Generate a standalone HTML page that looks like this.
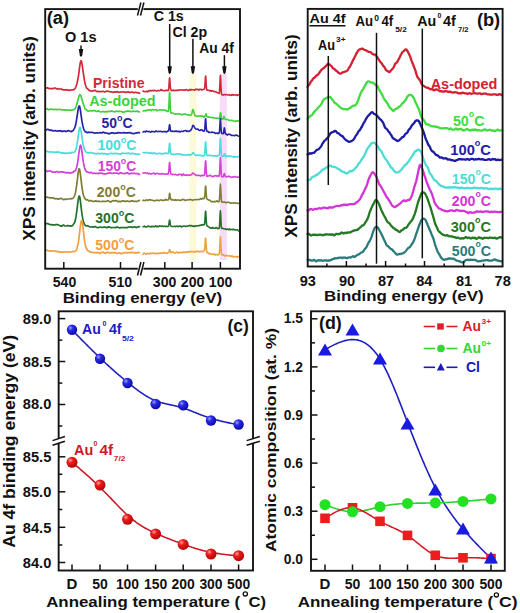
<!DOCTYPE html>
<html><head><meta charset="utf-8"><style>
html,body{margin:0;padding:0;background:#fff;width:520px;height:613px;overflow:hidden}
svg{display:block}
text{font-family:"Liberation Sans", sans-serif}
</style></head><body>
<svg width="520" height="613" viewBox="0 0 520 613">
<rect width="520" height="613" fill="#fff"/>
<rect x="189.5" y="74" width="7" height="186" fill="#fcfad8"/>
<rect x="219.8" y="74" width="7" height="186" fill="#f6dcf6"/>
<path d="M45.5 88.1 L46.0 88.1 L46.5 88.0 L47.0 87.8 L47.5 87.8 L48.0 88.0 L48.5 88.4 L49.0 88.6 L49.5 88.5 L50.0 88.5 L50.5 88.6 L51.0 88.7 L51.5 88.6 L52.0 88.6 L52.5 88.7 L53.0 88.7 L53.5 88.4 L54.0 88.2 L54.5 88.0 L55.0 88.0 L55.5 88.1 L56.0 88.4 L56.5 88.7 L57.0 89.0 L57.5 89.1 L58.0 88.8 L58.5 88.6 L59.0 88.8 L59.5 89.1 L60.0 89.1 L60.5 89.0 L61.0 89.0 L61.5 89.1 L62.0 89.4 L62.5 89.6 L63.0 89.7 L63.5 89.8 L64.0 89.9 L64.5 89.8 L65.0 89.8 L65.5 89.8 L66.0 89.8 L66.5 89.7 L67.0 89.9 L67.5 90.1 L68.0 90.0 L68.5 90.1 L69.0 90.1 L69.5 90.3 L70.0 90.5 L70.5 90.3 L71.0 90.0 L71.5 89.9 L72.0 90.0 L72.5 89.9 L73.0 89.8 L73.5 89.7 L74.0 89.6 L74.5 89.2 L75.0 88.5 L75.5 87.6 L76.0 86.5 L76.5 85.1 L77.0 83.2 L77.5 81.0 L78.0 78.6 L78.5 75.6 L79.0 71.9 L79.5 68.0 L80.0 64.5 L80.5 61.9 L81.0 60.7 L81.5 61.4 L82.0 63.8 L82.5 67.2 L83.0 70.8 L83.5 74.2 L84.0 77.5 L84.5 80.6 L85.0 83.3 L85.5 85.1 L86.0 86.6 L86.5 87.7 L87.0 88.4 L87.5 88.8 L88.0 89.2 L88.5 89.6 L89.0 90.1 L89.5 90.6 L90.0 90.8 L90.5 90.8 L91.0 90.9 L91.5 91.0 L92.0 91.1 L92.5 91.1 L93.0 91.0 L93.5 90.8 L94.0 90.6 L94.5 90.3 L95.0 90.3 L95.5 90.6 L96.0 91.0 L96.5 91.5 L97.0 91.7 L97.5 91.5 L98.0 91.3 L98.5 91.4 L99.0 91.6 L99.5 91.6 L100.0 91.6 L100.5 91.7 L101.0 91.6 L101.5 91.5 L102.0 91.4 L102.5 91.4 L103.0 91.4 L103.5 91.5 L104.0 91.7 L104.5 91.9 L105.0 91.9 L105.5 91.7 L106.0 91.5 L106.5 91.3 L107.0 91.1 L107.5 91.1 L108.0 91.3 L108.5 91.4 L109.0 91.5 L109.5 91.6 L110.0 91.7 L110.5 91.9 L111.0 92.0 L111.5 91.9 L112.0 92.0 L112.5 92.3 L113.0 92.5 L113.5 92.2 L114.0 92.0 L114.5 91.9 L115.0 91.9 L115.5 92.1 L116.0 92.0 L116.5 91.9 L117.0 91.7 L117.5 91.7 L118.0 91.9 L118.5 92.2 L119.0 92.4 L119.5 92.4 L120.0 92.2 L120.5 92.0 L121.0 91.9 L121.5 92.0 L122.0 92.0 L122.5 92.0 L123.0 91.8 L123.5 91.8 L124.0 92.1 L124.5 92.3 L125.0 92.2 L125.5 92.2 L126.0 92.4 L126.5 92.4 L127.0 92.2 L127.5 91.9 L128.0 91.9 L128.5 91.9 L129.0 92.2 L129.5 92.4 L130.0 92.4 L130.5 92.3 L131.0 92.3 L131.5 92.3 L132.0 92.1 L132.5 92.0 L133.0 92.2 L133.5 92.5 L134.0 92.6 L134.5 92.6 L135.0 92.5 L135.5 92.4 L136.0 92.5 L136.5 92.6 L137.0 92.6 L137.5 92.6 L138.0 92.8 L138.5 93.1 L139.0 93.1 L139.5 93.1" fill="none" stroke="#d02a38" stroke-width="1.7" stroke-linejoin="round" stroke-linecap="round" />
<path d="M143.0 90.9 L143.3 91.1 L143.6 91.4 L143.9 91.6 L144.2 91.5 L144.5 91.6 L144.8 91.7 L145.1 91.7 L145.4 91.6 L145.7 91.5 L146.0 91.4 L146.3 91.3 L146.6 91.4 L146.9 91.6 L147.2 91.8 L147.5 91.9 L147.8 91.5 L148.1 91.0 L148.4 90.7 L148.7 90.8 L149.0 90.9 L149.3 91.0 L149.6 90.8 L149.9 90.5 L150.2 90.4 L150.5 90.7 L150.8 90.9 L151.1 90.9 L151.4 90.8 L151.7 90.5 L152.0 90.4 L152.3 90.4 L152.6 90.4 L152.9 90.5 L153.2 90.7 L153.5 90.9 L153.8 90.8 L154.1 90.6 L154.4 90.4 L154.7 90.4 L155.0 90.5 L155.3 90.6 L155.6 90.7 L155.9 90.9 L156.2 91.1 L156.5 91.1 L156.8 91.0 L157.1 90.9 L157.4 90.8 L157.7 90.5 L158.0 90.4 L158.3 90.5 L158.6 90.7 L158.9 90.8 L159.2 90.8 L159.5 90.8 L159.8 90.8 L160.1 90.4 L160.4 90.0 L160.7 89.7 L161.0 89.5 L161.3 89.6 L161.6 90.1 L161.9 90.6 L162.2 90.5 L162.5 90.3 L162.8 90.4 L163.1 90.6 L163.4 90.7 L163.7 90.6 L164.0 90.6 L164.3 90.7 L164.6 90.8 L164.9 90.7 L165.2 90.5 L165.5 90.4 L165.8 90.4 L166.1 90.4 L166.4 90.4 L166.7 90.3 L167.0 90.2 L167.3 90.3 L167.6 90.5 L167.9 90.8 L168.2 90.8 L168.5 90.1 L168.8 87.9 L169.1 83.5 L169.4 78.6 L169.7 77.9 L170.0 81.8 L170.3 86.5 L170.6 89.0 L170.9 90.0 L171.2 90.4 L171.5 90.6 L171.8 90.6 L172.1 90.6 L172.4 90.5 L172.7 90.3 L173.0 90.0 L173.3 90.1 L173.6 90.5 L173.9 90.8 L174.2 90.8 L174.5 90.6 L174.8 90.5 L175.1 90.3 L175.4 90.2 L175.7 90.3 L176.0 90.4 L176.3 90.6 L176.6 90.5 L176.9 90.2 L177.2 90.1 L177.5 90.2 L177.8 90.5 L178.1 90.5 L178.4 90.2 L178.7 90.0 L179.0 89.9 L179.3 90.0 L179.6 90.2 L179.9 90.1 L180.2 90.0 L180.5 89.9 L180.8 89.8 L181.1 89.7 L181.4 89.7 L181.7 89.9 L182.0 90.0 L182.3 90.1 L182.6 90.3 L182.9 90.3 L183.2 90.1 L183.5 90.0 L183.8 89.9 L184.1 89.9 L184.4 90.0 L184.7 90.2 L185.0 90.4 L185.3 90.2 L185.6 89.8 L185.9 89.7 L186.2 89.6 L186.5 89.6 L186.8 89.7 L187.1 89.9 L187.4 90.1 L187.7 90.3 L188.0 90.5 L188.3 90.4 L188.6 90.4 L188.9 90.3 L189.2 90.0 L189.5 89.6 L189.8 89.6 L190.1 89.9 L190.4 90.2 L190.7 90.1 L191.0 89.7 L191.3 89.5 L191.6 89.6 L191.9 89.7 L192.2 89.8 L192.5 89.8 L192.8 89.8 L193.1 89.8 L193.4 89.8 L193.7 89.8 L194.0 89.9 L194.3 90.2 L194.6 90.3 L194.9 90.1 L195.2 89.7 L195.5 89.4 L195.8 89.2 L196.1 89.1 L196.4 89.3 L196.7 89.6 L197.0 89.7 L197.3 89.5 L197.6 89.2 L197.9 89.3 L198.2 89.6 L198.5 90.0 L198.8 90.2 L199.1 89.9 L199.4 89.4 L199.7 89.2 L200.0 89.3 L200.3 89.3 L200.6 89.3 L200.9 89.3 L201.2 89.5 L201.5 89.9 L201.8 90.1 L202.1 90.0 L202.4 89.8 L202.7 89.7 L203.0 89.5 L203.3 89.4 L203.6 89.3 L203.9 89.2 L204.2 89.2 L204.5 89.0 L204.8 87.0 L205.1 82.4 L205.4 77.2 L205.7 76.0 L206.0 80.2 L206.3 85.7 L206.6 88.9 L206.9 90.0 L207.2 90.3 L207.5 90.2 L207.8 90.0 L208.1 90.0 L208.4 90.3 L208.7 90.3 L209.0 90.3 L209.3 90.6 L209.6 90.9 L209.9 90.9 L210.2 90.6 L210.5 90.5 L210.8 90.7 L211.1 91.1 L211.4 91.2 L211.7 91.1 L212.0 90.8 L212.3 90.7 L212.6 90.7 L212.9 90.9 L213.2 91.2 L213.5 91.4 L213.8 91.6 L214.1 91.6 L214.4 91.5 L214.7 91.5 L215.0 91.7 L215.3 91.8 L215.6 91.9 L215.9 91.9 L216.2 92.0 L216.5 92.0 L216.8 92.2 L217.1 92.6 L217.4 92.7 L217.7 92.7 L218.0 92.8 L218.3 93.0 L218.6 93.2 L218.9 93.5 L219.2 93.3 L219.5 91.4 L219.8 86.2 L220.1 78.9 L220.4 75.2 L220.7 79.1 L221.0 86.7 L221.3 92.2 L221.6 94.3 L221.9 94.8 L222.2 94.8 L222.5 94.9 L222.8 95.0 L223.1 95.1 L223.4 94.9 L223.7 94.7 L224.0 94.6 L224.3 94.6 L224.6 94.6 L224.9 94.6 L225.2 94.8 L225.5 94.9 L225.8 94.7 L226.1 94.5 L226.4 94.5 L226.7 94.7 L227.0 94.8 L227.3 94.8 L227.6 94.9 L227.9 95.0 L228.2 95.0 L228.5 94.9 L228.8 94.7 L229.1 94.6 L229.4 94.8 L229.7 95.1 L230.0 95.3 L230.3 95.2 L230.6 95.2 L230.9 95.3 L231.2 95.4 L231.5 95.3 L231.8 94.9 L232.1 94.6 L232.4 94.5 L232.7 94.8 L233.0 95.1 L233.3 95.2 L233.6 94.9 L233.9 94.8 L234.2 94.9 L234.5 95.0 L234.8 94.8 L235.1 94.9 L235.4 95.0 L235.7 95.1 L236.0 95.0 L236.3 94.8 L236.6 94.8 L236.9 95.0 L237.2 95.4 L237.5 95.5 L237.8 95.1 L238.1 94.8 L238.4 94.6 L238.7 94.7" fill="none" stroke="#d02a38" stroke-width="1.6" stroke-linejoin="round" stroke-linecap="round" />
<path d="M45.5 109.0 L46.0 109.0 L46.5 108.9 L47.0 108.9 L47.5 109.1 L48.0 109.4 L48.5 109.8 L49.0 109.8 L49.5 109.5 L50.0 109.2 L50.5 109.2 L51.0 109.1 L51.5 109.1 L52.0 109.2 L52.5 109.3 L53.0 109.5 L53.5 109.6 L54.0 109.6 L54.5 109.5 L55.0 109.4 L55.5 109.3 L56.0 109.4 L56.5 109.6 L57.0 109.7 L57.5 109.6 L58.0 109.5 L58.5 109.5 L59.0 109.4 L59.5 109.4 L60.0 109.4 L60.5 109.5 L61.0 109.7 L61.5 109.9 L62.0 109.9 L62.5 109.9 L63.0 109.8 L63.5 109.8 L64.0 109.8 L64.5 109.9 L65.0 109.9 L65.5 110.0 L66.0 110.1 L66.5 110.2 L67.0 110.2 L67.5 110.1 L68.0 110.1 L68.5 110.0 L69.0 110.2 L69.5 110.3 L70.0 110.3 L70.5 110.2 L71.0 110.1 L71.5 110.1 L72.0 110.2 L72.5 110.1 L73.0 109.8 L73.5 109.5 L74.0 109.5 L74.5 109.3 L75.0 108.7 L75.5 107.7 L76.0 106.6 L76.5 105.3 L77.0 103.6 L77.5 101.7 L78.0 99.8 L78.5 97.9 L79.0 96.2 L79.5 95.1 L80.0 94.7 L80.5 95.0 L81.0 96.1 L81.5 97.8 L82.0 99.6 L82.5 101.2 L83.0 102.7 L83.5 104.2 L84.0 105.8 L84.5 107.3 L85.0 108.4 L85.5 109.2 L86.0 109.7 L86.5 109.9 L87.0 110.3 L87.5 110.7 L88.0 111.0 L88.5 111.1 L89.0 111.0 L89.5 110.9 L90.0 110.7 L90.5 110.6 L91.0 110.6 L91.5 110.9 L92.0 111.0 L92.5 110.9 L93.0 110.7 L93.5 110.7 L94.0 110.7 L94.5 110.6 L95.0 110.6 L95.5 110.9 L96.0 111.3 L96.5 111.4 L97.0 111.3 L97.5 111.2 L98.0 111.0 L98.5 110.9 L99.0 111.1 L99.5 111.5 L100.0 111.8 L100.5 112.0 L101.0 112.0 L101.5 111.8 L102.0 111.6 L102.5 111.5 L103.0 111.5 L103.5 111.6 L104.0 111.8 L104.5 111.9 L105.0 111.7 L105.5 111.6 L106.0 111.7 L106.5 111.8 L107.0 111.8 L107.5 111.6 L108.0 111.4 L108.5 111.3 L109.0 111.5 L109.5 111.6 L110.0 111.5 L110.5 111.2 L111.0 111.1 L111.5 111.1 L112.0 111.1 L112.5 111.2 L113.0 111.5 L113.5 111.7 L114.0 111.6 L114.5 111.6 L115.0 111.6 L115.5 111.6 L116.0 111.5 L116.5 111.3 L117.0 111.2 L117.5 111.3 L118.0 111.4 L118.5 111.5 L119.0 111.4 L119.5 111.3 L120.0 111.4 L120.5 111.5 L121.0 111.5 L121.5 111.5 L122.0 111.6 L122.5 112.1 L123.0 112.4 L123.5 112.3 L124.0 112.0 L124.5 111.9 L125.0 111.8 L125.5 111.5 L126.0 111.4 L126.5 111.4 L127.0 111.3 L127.5 111.1 L128.0 110.9 L128.5 111.0 L129.0 111.2 L129.5 111.3 L130.0 111.4 L130.5 111.5 L131.0 111.6 L131.5 111.5 L132.0 111.4 L132.5 111.3 L133.0 111.2 L133.5 111.3 L134.0 111.5 L134.5 111.5 L135.0 111.3 L135.5 111.3 L136.0 111.4 L136.5 111.3 L137.0 111.1 L137.5 111.2 L138.0 111.6 L138.5 112.0 L139.0 112.0 L139.5 111.8" fill="none" stroke="#3cd23c" stroke-width="1.7" stroke-linejoin="round" stroke-linecap="round" />
<path d="M143.0 111.0 L143.3 110.9 L143.6 110.7 L143.9 110.6 L144.2 110.7 L144.5 110.7 L144.8 110.6 L145.1 110.7 L145.4 111.0 L145.7 111.0 L146.0 110.8 L146.3 110.4 L146.6 110.1 L146.9 110.2 L147.2 110.3 L147.5 110.4 L147.8 110.3 L148.1 110.1 L148.4 109.9 L148.7 109.9 L149.0 110.0 L149.3 109.9 L149.6 109.9 L149.9 109.8 L150.2 109.9 L150.5 110.2 L150.8 110.5 L151.1 110.7 L151.4 110.6 L151.7 110.2 L152.0 109.7 L152.3 109.5 L152.6 109.6 L152.9 109.7 L153.2 109.7 L153.5 109.7 L153.8 109.7 L154.1 109.8 L154.4 109.9 L154.7 110.0 L155.0 109.9 L155.3 109.9 L155.6 109.7 L155.9 109.6 L156.2 109.7 L156.5 110.1 L156.8 110.6 L157.1 110.8 L157.4 110.7 L157.7 110.4 L158.0 110.2 L158.3 110.2 L158.6 110.1 L158.9 110.0 L159.2 109.9 L159.5 109.8 L159.8 109.8 L160.1 109.7 L160.4 109.7 L160.7 110.0 L161.0 110.2 L161.3 110.2 L161.6 110.0 L161.9 110.0 L162.2 109.9 L162.5 109.8 L162.8 109.8 L163.1 110.0 L163.4 110.1 L163.7 110.1 L164.0 110.1 L164.3 110.0 L164.6 110.1 L164.9 110.2 L165.2 110.3 L165.5 110.2 L165.8 110.3 L166.1 110.6 L166.4 111.1 L166.7 111.4 L167.0 111.4 L167.3 111.3 L167.6 111.4 L167.9 111.5 L168.2 111.4 L168.5 110.6 L168.8 107.4 L169.1 100.7 L169.4 93.5 L169.7 92.4 L170.0 98.8 L170.3 106.8 L170.6 111.4 L170.9 112.9 L171.2 113.0 L171.5 112.9 L171.8 112.9 L172.1 113.0 L172.4 113.1 L172.7 113.2 L173.0 113.2 L173.3 113.2 L173.6 113.5 L173.9 113.7 L174.2 113.8 L174.5 113.9 L174.8 114.0 L175.1 114.1 L175.4 114.2 L175.7 114.2 L176.0 114.0 L176.3 113.8 L176.6 113.7 L176.9 113.7 L177.2 113.8 L177.5 113.9 L177.8 114.0 L178.1 114.1 L178.4 114.0 L178.7 113.7 L179.0 113.6 L179.3 113.8 L179.6 113.9 L179.9 114.0 L180.2 114.1 L180.5 114.2 L180.8 114.2 L181.1 114.3 L181.4 114.5 L181.7 114.8 L182.0 114.9 L182.3 114.5 L182.6 114.3 L182.9 114.3 L183.2 114.3 L183.5 114.3 L183.8 114.3 L184.1 114.3 L184.4 114.2 L184.7 114.1 L185.0 114.0 L185.3 113.9 L185.6 114.1 L185.9 114.4 L186.2 114.6 L186.5 114.5 L186.8 114.5 L187.1 114.7 L187.4 115.0 L187.7 115.1 L188.0 115.0 L188.3 114.9 L188.6 114.9 L188.9 114.8 L189.2 114.7 L189.5 115.0 L189.8 115.3 L190.1 115.5 L190.4 115.4 L190.7 115.3 L191.0 115.1 L191.3 114.7 L191.6 114.3 L191.9 113.5 L192.2 112.1 L192.5 110.6 L192.8 109.6 L193.1 109.6 L193.4 110.3 L193.7 111.2 L194.0 112.4 L194.3 113.6 L194.6 114.7 L194.9 115.4 L195.2 115.8 L195.5 115.9 L195.8 115.8 L196.1 115.8 L196.4 116.1 L196.7 116.4 L197.0 116.3 L197.3 116.2 L197.6 116.2 L197.9 116.1 L198.2 116.0 L198.5 115.9 L198.8 116.1 L199.1 116.1 L199.4 116.1 L199.7 116.0 L200.0 116.0 L200.3 116.0 L200.6 115.9 L200.9 115.9 L201.2 116.1 L201.5 116.2 L201.8 116.1 L202.1 116.1 L202.4 116.2 L202.7 116.1 L203.0 116.2 L203.3 116.4 L203.6 116.9 L203.9 117.2 L204.2 117.2 L204.5 116.9 L204.8 116.7 L205.1 116.3 L205.4 115.6 L205.7 114.4 L206.0 113.8 L206.3 114.5 L206.6 115.8 L206.9 116.7 L207.2 116.9 L207.5 116.9 L207.8 117.0 L208.1 117.1 L208.4 117.1 L208.7 117.0 L209.0 116.8 L209.3 116.8 L209.6 117.1 L209.9 117.4 L210.2 117.5 L210.5 117.5 L210.8 117.5 L211.1 117.4 L211.4 117.3 L211.7 117.4 L212.0 117.6 L212.3 117.6 L212.6 117.6 L212.9 117.6 L213.2 117.6 L213.5 117.7 L213.8 117.7 L214.1 117.6 L214.4 117.8 L214.7 118.1 L215.0 118.3 L215.3 118.2 L215.6 118.2 L215.9 118.2 L216.2 118.2 L216.5 118.2 L216.8 118.2 L217.1 118.1 L217.4 118.2 L217.7 118.3 L218.0 118.3 L218.3 118.3 L218.6 118.5 L218.9 118.7 L219.2 118.8 L219.5 118.5 L219.8 117.2 L220.1 114.6 L220.4 112.5 L220.7 112.8 L221.0 115.3 L221.3 117.8 L221.6 119.1 L221.9 119.2 L222.2 118.9 L222.5 118.8 L222.8 119.1 L223.1 119.0 L223.4 118.3 L223.7 117.1 L224.0 116.5 L224.3 117.2 L224.6 118.3 L224.9 119.0 L225.2 119.1 L225.5 119.3 L225.8 119.5 L226.1 119.6 L226.4 119.6 L226.7 119.5 L227.0 119.5 L227.3 119.4 L227.6 119.3 L227.9 119.4 L228.2 119.8 L228.5 120.1 L228.8 120.3 L229.1 120.3 L229.4 120.3 L229.7 120.3 L230.0 120.3 L230.3 120.5 L230.6 120.5 L230.9 120.4 L231.2 120.3 L231.5 120.3 L231.8 120.3 L232.1 120.4 L232.4 120.6 L232.7 120.6 L233.0 120.6 L233.3 120.6 L233.6 120.7 L233.9 120.9 L234.2 121.1 L234.5 121.3 L234.8 121.5 L235.1 121.5 L235.4 121.3 L235.7 121.1 L236.0 121.0 L236.3 121.1 L236.6 121.2 L236.9 121.1 L237.2 120.9 L237.5 120.7 L237.8 120.7 L238.1 120.8 L238.4 121.0 L238.7 121.1" fill="none" stroke="#3cd23c" stroke-width="1.6" stroke-linejoin="round" stroke-linecap="round" />
<path d="M45.5 129.7 L46.0 129.8 L46.5 129.8 L47.0 129.5 L47.5 129.4 L48.0 129.4 L48.5 129.5 L49.0 129.9 L49.5 130.2 L50.0 130.3 L50.5 130.2 L51.0 130.2 L51.5 130.3 L52.0 130.4 L52.5 130.6 L53.0 130.9 L53.5 131.0 L54.0 130.9 L54.5 130.7 L55.0 130.6 L55.5 130.7 L56.0 130.9 L56.5 131.0 L57.0 131.1 L57.5 131.0 L58.0 130.8 L58.5 130.8 L59.0 130.9 L59.5 130.9 L60.0 130.8 L60.5 130.7 L61.0 130.9 L61.5 131.3 L62.0 131.6 L62.5 131.5 L63.0 131.1 L63.5 131.0 L64.0 131.1 L64.5 131.2 L65.0 131.2 L65.5 131.3 L66.0 131.4 L66.5 131.4 L67.0 131.2 L67.5 130.9 L68.0 130.7 L68.5 130.6 L69.0 130.8 L69.5 131.0 L70.0 131.3 L70.5 131.5 L71.0 131.6 L71.5 131.4 L72.0 131.1 L72.5 130.9 L73.0 130.6 L73.5 129.9 L74.0 129.1 L74.5 128.2 L75.0 127.0 L75.5 125.3 L76.0 122.9 L76.5 120.1 L77.0 117.0 L77.5 113.6 L78.0 110.3 L78.5 107.5 L79.0 106.0 L79.5 106.1 L80.0 107.8 L80.5 110.8 L81.0 114.5 L81.5 118.2 L82.0 121.4 L82.5 124.1 L83.0 126.4 L83.5 128.2 L84.0 129.6 L84.5 130.6 L85.0 131.4 L85.5 131.8 L86.0 131.9 L86.5 132.2 L87.0 132.6 L87.5 132.6 L88.0 132.4 L88.5 132.3 L89.0 132.2 L89.5 132.3 L90.0 132.4 L90.5 132.5 L91.0 132.5 L91.5 132.4 L92.0 132.3 L92.5 132.4 L93.0 132.5 L93.5 132.7 L94.0 133.0 L94.5 133.1 L95.0 133.1 L95.5 133.0 L96.0 132.9 L96.5 132.9 L97.0 132.9 L97.5 132.9 L98.0 133.0 L98.5 133.0 L99.0 132.9 L99.5 132.7 L100.0 132.7 L100.5 132.7 L101.0 132.8 L101.5 132.9 L102.0 132.9 L102.5 132.6 L103.0 132.3 L103.5 132.2 L104.0 132.4 L104.5 132.8 L105.0 133.1 L105.5 133.0 L106.0 132.9 L106.5 133.0 L107.0 133.2 L107.5 133.3 L108.0 133.4 L108.5 133.6 L109.0 133.8 L109.5 133.7 L110.0 133.4 L110.5 133.2 L111.0 133.1 L111.5 132.9 L112.0 132.7 L112.5 132.8 L113.0 132.8 L113.5 133.0 L114.0 133.3 L114.5 133.4 L115.0 133.2 L115.5 133.0 L116.0 133.1 L116.5 133.2 L117.0 133.2 L117.5 132.9 L118.0 132.6 L118.5 132.5 L119.0 132.7 L119.5 132.9 L120.0 132.9 L120.5 132.8 L121.0 132.9 L121.5 133.0 L122.0 133.0 L122.5 132.9 L123.0 132.7 L123.5 132.6 L124.0 132.7 L124.5 132.8 L125.0 132.8 L125.5 132.8 L126.0 132.9 L126.5 132.9 L127.0 132.9 L127.5 132.9 L128.0 132.9 L128.5 132.8 L129.0 132.6 L129.5 132.7 L130.0 132.7 L130.5 132.9 L131.0 133.1 L131.5 133.3 L132.0 133.3 L132.5 133.3 L133.0 133.5 L133.5 133.6 L134.0 133.7 L134.5 133.5 L135.0 133.3 L135.5 133.1 L136.0 133.0 L136.5 132.9 L137.0 132.9 L137.5 132.8 L138.0 132.7 L138.5 132.6 L139.0 132.6 L139.5 132.8" fill="none" stroke="#2424a8" stroke-width="1.7" stroke-linejoin="round" stroke-linecap="round" />
<path d="M143.0 132.0 L143.3 131.9 L143.6 131.7 L143.9 131.5 L144.2 131.5 L144.5 131.6 L144.8 131.7 L145.1 131.9 L145.4 131.9 L145.7 131.6 L146.0 131.2 L146.3 131.0 L146.6 131.0 L146.9 131.3 L147.2 131.5 L147.5 131.5 L147.8 131.5 L148.1 131.6 L148.4 131.7 L148.7 131.6 L149.0 131.4 L149.3 131.5 L149.6 131.7 L149.9 131.9 L150.2 132.1 L150.5 132.2 L150.8 132.2 L151.1 132.0 L151.4 131.7 L151.7 131.4 L152.0 131.4 L152.3 131.5 L152.6 131.6 L152.9 131.6 L153.2 131.5 L153.5 131.6 L153.8 131.7 L154.1 131.8 L154.4 131.9 L154.7 131.9 L155.0 131.8 L155.3 131.4 L155.6 131.0 L155.9 131.0 L156.2 131.1 L156.5 131.3 L156.8 131.5 L157.1 131.6 L157.4 131.5 L157.7 131.5 L158.0 131.6 L158.3 131.4 L158.6 131.3 L158.9 131.4 L159.2 131.5 L159.5 131.5 L159.8 131.4 L160.1 131.3 L160.4 131.3 L160.7 131.4 L161.0 131.5 L161.3 131.5 L161.6 131.6 L161.9 131.8 L162.2 131.9 L162.5 131.8 L162.8 131.7 L163.1 131.6 L163.4 131.6 L163.7 131.7 L164.0 131.8 L164.3 131.8 L164.6 131.6 L164.9 131.4 L165.2 131.4 L165.5 131.5 L165.8 131.8 L166.1 131.9 L166.4 131.9 L166.7 131.9 L167.0 131.8 L167.3 131.4 L167.6 131.0 L167.9 130.9 L168.2 131.0 L168.5 131.0 L168.8 130.0 L169.1 127.7 L169.4 125.1 L169.7 124.6 L170.0 126.7 L170.3 129.3 L170.6 130.8 L170.9 131.2 L171.2 131.3 L171.5 131.3 L171.8 131.4 L172.1 131.4 L172.4 131.2 L172.7 131.1 L173.0 131.2 L173.3 131.4 L173.6 131.5 L173.9 131.5 L174.2 131.3 L174.5 131.3 L174.8 131.3 L175.1 131.4 L175.4 131.3 L175.7 131.1 L176.0 130.8 L176.3 131.0 L176.6 131.4 L176.9 131.6 L177.2 131.5 L177.5 131.4 L177.8 131.4 L178.1 131.6 L178.4 131.7 L178.7 131.5 L179.0 131.2 L179.3 131.2 L179.6 131.6 L179.9 132.0 L180.2 132.0 L180.5 131.8 L180.8 131.5 L181.1 131.3 L181.4 131.3 L181.7 131.2 L182.0 131.2 L182.3 131.4 L182.6 131.5 L182.9 131.5 L183.2 131.3 L183.5 131.0 L183.8 130.9 L184.1 130.9 L184.4 130.8 L184.7 130.7 L185.0 130.7 L185.3 130.6 L185.6 130.5 L185.9 130.5 L186.2 130.7 L186.5 131.1 L186.8 131.4 L187.1 131.4 L187.4 131.2 L187.7 131.1 L188.0 131.2 L188.3 131.3 L188.6 131.4 L188.9 131.4 L189.2 131.1 L189.5 130.9 L189.8 130.8 L190.1 130.9 L190.4 130.7 L190.7 130.2 L191.0 129.9 L191.3 129.5 L191.6 128.9 L191.9 128.1 L192.2 127.2 L192.5 126.2 L192.8 125.5 L193.1 125.3 L193.4 125.5 L193.7 125.7 L194.0 126.2 L194.3 127.0 L194.6 127.7 L194.9 128.1 L195.2 128.3 L195.5 128.7 L195.8 128.9 L196.1 129.1 L196.4 129.3 L196.7 129.3 L197.0 129.2 L197.3 129.1 L197.6 129.1 L197.9 129.1 L198.2 129.3 L198.5 129.9 L198.8 130.2 L199.1 130.2 L199.4 130.2 L199.7 130.4 L200.0 130.6 L200.3 130.5 L200.6 130.2 L200.9 129.9 L201.2 129.7 L201.5 129.6 L201.8 129.8 L202.1 130.0 L202.4 130.2 L202.7 130.5 L203.0 130.9 L203.3 131.2 L203.6 131.3 L203.9 131.2 L204.2 131.0 L204.5 130.4 L204.8 128.4 L205.1 124.3 L205.4 119.6 L205.7 118.7 L206.0 122.6 L206.3 127.6 L206.6 130.5 L206.9 131.3 L207.2 131.4 L207.5 131.3 L207.8 131.3 L208.1 131.6 L208.4 132.2 L208.7 132.5 L209.0 132.3 L209.3 132.1 L209.6 132.2 L209.9 132.3 L210.2 132.4 L210.5 132.5 L210.8 132.5 L211.1 132.5 L211.4 132.3 L211.7 132.2 L212.0 132.1 L212.3 132.1 L212.6 132.2 L212.9 132.3 L213.2 132.5 L213.5 132.6 L213.8 132.6 L214.1 132.5 L214.4 132.5 L214.7 132.8 L215.0 133.2 L215.3 133.4 L215.6 133.4 L215.9 133.3 L216.2 133.2 L216.5 133.2 L216.8 133.1 L217.1 133.0 L217.4 133.1 L217.7 133.5 L218.0 133.7 L218.3 133.4 L218.6 133.3 L218.9 133.2 L219.2 132.8 L219.5 131.1 L219.8 127.1 L220.1 121.5 L220.4 118.8 L220.7 122.0 L221.0 127.9 L221.3 132.0 L221.6 133.4 L221.9 133.5 L222.2 133.3 L222.5 133.5 L222.8 133.7 L223.1 133.8 L223.4 133.4 L223.7 132.0 L224.0 129.7 L224.3 127.9 L224.6 128.4 L224.9 130.8 L225.2 133.0 L225.5 133.9 L225.8 134.0 L226.1 134.1 L226.4 134.2 L226.7 134.5 L227.0 134.9 L227.3 135.1 L227.6 134.9 L227.9 134.6 L228.2 134.3 L228.5 134.2 L228.8 134.1 L229.1 134.2 L229.4 134.3 L229.7 134.5 L230.0 134.7 L230.3 134.6 L230.6 134.6 L230.9 134.8 L231.2 135.1 L231.5 135.4 L231.8 135.5 L232.1 135.5 L232.4 135.4 L232.7 135.4 L233.0 135.5 L233.3 135.5 L233.6 135.5 L233.9 135.5 L234.2 135.7 L234.5 135.7 L234.8 135.6 L235.1 135.5 L235.4 135.4 L235.7 135.2 L236.0 135.1 L236.3 135.1 L236.6 135.2 L236.9 135.3 L237.2 135.5 L237.5 135.5 L237.8 135.7 L238.1 136.0 L238.4 136.2 L238.7 136.2" fill="none" stroke="#2424a8" stroke-width="1.6" stroke-linejoin="round" stroke-linecap="round" />
<path d="M45.5 151.2 L46.0 151.3 L46.5 151.4 L47.0 151.4 L47.5 151.5 L48.0 151.8 L48.5 152.0 L49.0 151.9 L49.5 151.8 L50.0 151.9 L50.5 152.0 L51.0 152.0 L51.5 151.9 L52.0 152.0 L52.5 152.2 L53.0 152.1 L53.5 152.0 L54.0 152.1 L54.5 152.2 L55.0 152.4 L55.5 152.3 L56.0 152.2 L56.5 152.2 L57.0 152.2 L57.5 152.0 L58.0 151.9 L58.5 151.9 L59.0 152.2 L59.5 152.5 L60.0 152.6 L60.5 152.5 L61.0 152.6 L61.5 152.9 L62.0 153.2 L62.5 153.2 L63.0 153.1 L63.5 152.9 L64.0 153.0 L64.5 153.3 L65.0 153.4 L65.5 153.2 L66.0 153.1 L66.5 153.1 L67.0 153.2 L67.5 153.4 L68.0 153.2 L68.5 153.0 L69.0 153.0 L69.5 153.2 L70.0 153.3 L70.5 153.1 L71.0 152.9 L71.5 152.6 L72.0 152.4 L72.5 152.4 L73.0 152.5 L73.5 152.5 L74.0 152.3 L74.5 152.0 L75.0 151.3 L75.5 150.4 L76.0 149.0 L76.5 147.0 L77.0 144.4 L77.5 141.4 L78.0 137.9 L78.5 134.2 L79.0 130.9 L79.5 128.4 L80.0 127.4 L80.5 128.3 L81.0 130.7 L81.5 133.9 L82.0 137.3 L82.5 140.7 L83.0 143.8 L83.5 146.3 L84.0 148.1 L84.5 149.5 L85.0 150.5 L85.5 151.4 L86.0 151.9 L86.5 152.2 L87.0 152.5 L87.5 152.7 L88.0 152.8 L88.5 152.9 L89.0 153.0 L89.5 152.9 L90.0 152.6 L90.5 152.5 L91.0 152.6 L91.5 152.7 L92.0 152.8 L92.5 153.0 L93.0 153.2 L93.5 153.3 L94.0 153.4 L94.5 153.4 L95.0 153.5 L95.5 153.7 L96.0 153.9 L96.5 153.8 L97.0 153.5 L97.5 153.4 L98.0 153.4 L98.5 153.6 L99.0 153.7 L99.5 153.6 L100.0 153.6 L100.5 153.7 L101.0 153.7 L101.5 153.5 L102.0 153.3 L102.5 153.4 L103.0 153.7 L103.5 153.9 L104.0 153.8 L104.5 153.5 L105.0 153.5 L105.5 153.7 L106.0 153.9 L106.5 154.1 L107.0 154.3 L107.5 154.3 L108.0 154.2 L108.5 154.0 L109.0 153.7 L109.5 153.5 L110.0 153.5 L110.5 153.5 L111.0 153.4 L111.5 153.3 L112.0 153.5 L112.5 153.6 L113.0 153.6 L113.5 153.6 L114.0 153.6 L114.5 153.5 L115.0 153.4 L115.5 153.4 L116.0 153.6 L116.5 153.7 L117.0 153.6 L117.5 153.5 L118.0 153.5 L118.5 153.7 L119.0 153.9 L119.5 154.0 L120.0 154.1 L120.5 154.1 L121.0 153.9 L121.5 153.6 L122.0 153.2 L122.5 153.0 L123.0 153.1 L123.5 153.3 L124.0 153.5 L124.5 153.5 L125.0 153.4 L125.5 153.3 L126.0 153.3 L126.5 153.3 L127.0 153.3 L127.5 153.3 L128.0 153.2 L128.5 153.1 L129.0 153.3 L129.5 153.6 L130.0 153.9 L130.5 153.8 L131.0 153.5 L131.5 153.4 L132.0 153.4 L132.5 153.4 L133.0 153.5 L133.5 153.6 L134.0 153.7 L134.5 153.7 L135.0 153.9 L135.5 154.1 L136.0 154.2 L136.5 154.2 L137.0 154.2 L137.5 154.3 L138.0 154.3 L138.5 154.2 L139.0 154.2 L139.5 154.1" fill="none" stroke="#48dcdc" stroke-width="1.7" stroke-linejoin="round" stroke-linecap="round" />
<path d="M143.0 152.6 L143.3 152.6 L143.6 152.7 L143.9 152.8 L144.2 152.8 L144.5 152.9 L144.8 152.9 L145.1 152.7 L145.4 152.5 L145.7 152.6 L146.0 152.8 L146.3 152.7 L146.6 152.5 L146.9 152.5 L147.2 152.7 L147.5 152.9 L147.8 152.9 L148.1 152.8 L148.4 152.9 L148.7 153.1 L149.0 153.1 L149.3 153.0 L149.6 153.1 L149.9 153.3 L150.2 153.1 L150.5 152.9 L150.8 152.9 L151.1 153.1 L151.4 153.5 L151.7 153.5 L152.0 153.2 L152.3 153.1 L152.6 153.4 L152.9 153.7 L153.2 153.8 L153.5 153.5 L153.8 153.2 L154.1 152.9 L154.4 152.7 L154.7 152.9 L155.0 153.3 L155.3 153.6 L155.6 153.8 L155.9 153.7 L156.2 153.6 L156.5 153.8 L156.8 153.9 L157.1 153.7 L157.4 153.5 L157.7 153.5 L158.0 153.6 L158.3 153.5 L158.6 153.5 L158.9 153.5 L159.2 153.4 L159.5 153.2 L159.8 153.2 L160.1 153.3 L160.4 153.5 L160.7 153.8 L161.0 153.9 L161.3 153.7 L161.6 153.5 L161.9 153.7 L162.2 153.9 L162.5 154.0 L162.8 153.9 L163.1 153.6 L163.4 153.5 L163.7 153.4 L164.0 153.3 L164.3 153.2 L164.6 153.4 L164.9 153.5 L165.2 153.3 L165.5 153.1 L165.8 153.0 L166.1 153.2 L166.4 153.4 L166.7 153.4 L167.0 153.4 L167.3 153.4 L167.6 153.5 L167.9 153.5 L168.2 153.6 L168.5 153.2 L168.8 151.6 L169.1 148.0 L169.4 144.0 L169.7 143.3 L170.0 146.8 L170.3 151.0 L170.6 153.3 L170.9 154.0 L171.2 154.1 L171.5 154.1 L171.8 154.1 L172.1 154.2 L172.4 154.5 L172.7 154.5 L173.0 154.6 L173.3 154.7 L173.6 154.4 L173.9 154.2 L174.2 154.1 L174.5 154.2 L174.8 154.4 L175.1 154.4 L175.4 154.2 L175.7 154.1 L176.0 154.1 L176.3 154.1 L176.6 154.0 L176.9 153.9 L177.2 153.8 L177.5 153.8 L177.8 154.0 L178.1 154.1 L178.4 154.1 L178.7 154.2 L179.0 154.2 L179.3 154.2 L179.6 153.9 L179.9 153.8 L180.2 153.9 L180.5 154.1 L180.8 154.3 L181.1 154.5 L181.4 154.9 L181.7 155.1 L182.0 154.9 L182.3 154.6 L182.6 154.5 L182.9 154.7 L183.2 154.9 L183.5 154.9 L183.8 155.0 L184.1 155.1 L184.4 155.1 L184.7 155.0 L185.0 155.0 L185.3 154.9 L185.6 154.9 L185.9 154.9 L186.2 154.9 L186.5 155.0 L186.8 155.1 L187.1 155.1 L187.4 155.0 L187.7 154.9 L188.0 155.0 L188.3 155.0 L188.6 154.7 L188.9 154.4 L189.2 154.5 L189.5 154.9 L189.8 155.2 L190.1 155.2 L190.4 155.0 L190.7 154.8 L191.0 154.8 L191.3 154.8 L191.6 154.6 L191.9 154.1 L192.2 153.6 L192.5 153.1 L192.8 152.8 L193.1 152.6 L193.4 152.7 L193.7 153.0 L194.0 153.6 L194.3 154.1 L194.6 154.3 L194.9 154.6 L195.2 155.1 L195.5 155.4 L195.8 155.5 L196.1 155.5 L196.4 155.4 L196.7 155.2 L197.0 155.2 L197.3 155.1 L197.6 155.2 L197.9 155.3 L198.2 155.4 L198.5 155.3 L198.8 155.2 L199.1 155.1 L199.4 155.1 L199.7 155.0 L200.0 155.0 L200.3 155.0 L200.6 155.1 L200.9 155.2 L201.2 155.5 L201.5 155.9 L201.8 156.0 L202.1 155.8 L202.4 155.8 L202.7 155.9 L203.0 155.8 L203.3 155.6 L203.6 155.6 L203.9 155.7 L204.2 155.8 L204.5 155.2 L204.8 153.0 L205.1 148.1 L205.4 142.9 L205.7 141.9 L206.0 146.3 L206.3 151.5 L206.6 154.6 L206.9 155.6 L207.2 155.7 L207.5 155.4 L207.8 155.2 L208.1 155.2 L208.4 155.3 L208.7 155.4 L209.0 155.4 L209.3 155.3 L209.6 155.4 L209.9 155.5 L210.2 155.8 L210.5 155.7 L210.8 155.5 L211.1 155.4 L211.4 155.5 L211.7 155.6 L212.0 155.5 L212.3 155.5 L212.6 155.6 L212.9 155.8 L213.2 155.9 L213.5 155.8 L213.8 155.8 L214.1 155.6 L214.4 155.6 L214.7 155.8 L215.0 156.0 L215.3 156.1 L215.6 156.2 L215.9 156.1 L216.2 155.9 L216.5 156.0 L216.8 156.3 L217.1 156.3 L217.4 155.9 L217.7 155.6 L218.0 155.5 L218.3 155.5 L218.6 155.5 L218.9 155.4 L219.2 155.0 L219.5 153.3 L219.8 148.5 L220.1 141.6 L220.4 138.2 L220.7 141.9 L221.0 148.9 L221.3 153.8 L221.6 155.6 L221.9 156.2 L222.2 156.5 L222.5 156.4 L222.8 156.2 L223.1 156.2 L223.4 156.3 L223.7 155.9 L224.0 154.9 L224.3 153.9 L224.6 153.7 L224.9 154.5 L225.2 155.5 L225.5 156.2 L225.8 156.7 L226.1 156.9 L226.4 156.5 L226.7 156.0 L227.0 155.9 L227.3 156.0 L227.6 155.9 L227.9 156.0 L228.2 156.2 L228.5 156.3 L228.8 156.4 L229.1 156.4 L229.4 156.4 L229.7 156.3 L230.0 156.1 L230.3 156.0 L230.6 156.1 L230.9 156.2 L231.2 156.3 L231.5 156.4 L231.8 156.6 L232.1 156.6 L232.4 156.6 L232.7 156.7 L233.0 156.9 L233.3 157.0 L233.6 156.6 L233.9 156.3 L234.2 156.5 L234.5 157.0 L234.8 157.3 L235.1 157.3 L235.4 157.1 L235.7 156.8 L236.0 156.7 L236.3 156.7 L236.6 156.7 L236.9 156.7 L237.2 156.9 L237.5 156.9 L237.8 156.6 L238.1 156.5 L238.4 156.6 L238.7 156.6" fill="none" stroke="#48dcdc" stroke-width="1.6" stroke-linejoin="round" stroke-linecap="round" />
<path d="M45.5 170.2 L46.0 170.7 L46.5 171.0 L47.0 171.3 L47.5 171.4 L48.0 171.3 L48.5 171.1 L49.0 171.0 L49.5 170.9 L50.0 171.0 L50.5 171.2 L51.0 171.3 L51.5 171.6 L52.0 171.9 L52.5 172.1 L53.0 172.0 L53.5 172.0 L54.0 172.1 L54.5 172.2 L55.0 172.2 L55.5 172.1 L56.0 171.8 L56.5 171.6 L57.0 171.6 L57.5 171.8 L58.0 172.2 L58.5 172.3 L59.0 172.2 L59.5 172.0 L60.0 171.9 L60.5 171.8 L61.0 171.8 L61.5 171.8 L62.0 171.9 L62.5 172.1 L63.0 172.2 L63.5 172.1 L64.0 172.0 L64.5 172.2 L65.0 172.5 L65.5 172.7 L66.0 172.8 L66.5 172.8 L67.0 172.6 L67.5 172.6 L68.0 172.9 L68.5 172.9 L69.0 172.8 L69.5 172.7 L70.0 172.9 L70.5 173.1 L71.0 173.0 L71.5 172.8 L72.0 172.6 L72.5 172.4 L73.0 172.3 L73.5 171.8 L74.0 171.3 L74.5 171.1 L75.0 171.0 L75.5 170.4 L76.0 169.3 L76.5 167.7 L77.0 165.8 L77.5 163.3 L78.0 160.0 L78.5 156.3 L79.0 152.4 L79.5 148.8 L80.0 146.1 L80.5 145.1 L81.0 146.1 L81.5 148.7 L82.0 152.2 L82.5 156.2 L83.0 159.9 L83.5 162.9 L84.0 165.3 L84.5 167.5 L85.0 169.2 L85.5 170.4 L86.0 171.2 L86.5 171.6 L87.0 171.8 L87.5 171.9 L88.0 172.0 L88.5 172.3 L89.0 172.6 L89.5 172.8 L90.0 172.8 L90.5 172.6 L91.0 172.4 L91.5 172.4 L92.0 172.8 L92.5 173.3 L93.0 173.5 L93.5 173.4 L94.0 173.2 L94.5 173.2 L95.0 173.3 L95.5 173.5 L96.0 173.5 L96.5 173.4 L97.0 173.4 L97.5 173.3 L98.0 173.4 L98.5 173.6 L99.0 173.4 L99.5 173.1 L100.0 173.0 L100.5 173.1 L101.0 173.3 L101.5 173.4 L102.0 173.3 L102.5 173.4 L103.0 173.6 L103.5 173.7 L104.0 173.8 L104.5 173.9 L105.0 173.9 L105.5 173.9 L106.0 173.8 L106.5 173.7 L107.0 173.5 L107.5 173.4 L108.0 173.3 L108.5 173.1 L109.0 172.9 L109.5 172.8 L110.0 172.9 L110.5 173.1 L111.0 173.2 L111.5 173.4 L112.0 173.5 L112.5 173.5 L113.0 173.3 L113.5 173.1 L114.0 173.0 L114.5 173.0 L115.0 173.1 L115.5 173.2 L116.0 173.1 L116.5 173.0 L117.0 173.1 L117.5 173.3 L118.0 173.6 L118.5 173.9 L119.0 173.7 L119.5 173.3 L120.0 172.8 L120.5 172.7 L121.0 172.9 L121.5 173.2 L122.0 173.3 L122.5 173.3 L123.0 173.4 L123.5 173.5 L124.0 173.6 L124.5 173.4 L125.0 173.3 L125.5 173.3 L126.0 173.3 L126.5 173.1 L127.0 172.9 L127.5 172.8 L128.0 173.1 L128.5 173.6 L129.0 173.9 L129.5 173.8 L130.0 173.6 L130.5 173.5 L131.0 173.3 L131.5 173.2 L132.0 173.3 L132.5 173.5 L133.0 173.5 L133.5 173.4 L134.0 173.4 L134.5 173.4 L135.0 173.5 L135.5 173.6 L136.0 173.7 L136.5 173.7 L137.0 173.6 L137.5 173.5 L138.0 173.5 L138.5 173.9 L139.0 174.3 L139.5 174.3" fill="none" stroke="#d640d6" stroke-width="1.7" stroke-linejoin="round" stroke-linecap="round" />
<path d="M143.0 173.2 L143.3 173.0 L143.6 172.8 L143.9 172.9 L144.2 173.0 L144.5 173.1 L144.8 173.0 L145.1 172.8 L145.4 172.8 L145.7 172.9 L146.0 173.0 L146.3 173.1 L146.6 173.2 L146.9 173.3 L147.2 173.1 L147.5 173.0 L147.8 173.2 L148.1 173.7 L148.4 173.9 L148.7 173.6 L149.0 173.4 L149.3 173.3 L149.6 173.5 L149.9 173.6 L150.2 173.8 L150.5 173.9 L150.8 173.8 L151.1 173.8 L151.4 173.9 L151.7 173.8 L152.0 173.7 L152.3 173.6 L152.6 173.5 L152.9 173.4 L153.2 173.3 L153.5 173.3 L153.8 173.1 L154.1 173.1 L154.4 173.4 L154.7 174.0 L155.0 174.3 L155.3 174.2 L155.6 174.0 L155.9 173.8 L156.2 173.6 L156.5 173.5 L156.8 173.4 L157.1 173.4 L157.4 173.5 L157.7 173.5 L158.0 173.5 L158.3 173.7 L158.6 173.9 L158.9 173.9 L159.2 173.9 L159.5 173.8 L159.8 173.7 L160.1 173.7 L160.4 173.7 L160.7 173.8 L161.0 174.1 L161.3 174.2 L161.6 174.0 L161.9 173.7 L162.2 173.6 L162.5 173.7 L162.8 173.8 L163.1 173.8 L163.4 173.9 L163.7 174.0 L164.0 174.0 L164.3 174.1 L164.6 174.3 L164.9 174.3 L165.2 174.2 L165.5 174.2 L165.8 174.2 L166.1 174.2 L166.4 174.0 L166.7 173.9 L167.0 173.8 L167.3 173.9 L167.6 174.1 L167.9 174.1 L168.2 173.9 L168.5 173.0 L168.8 170.9 L169.1 167.0 L169.4 162.9 L169.7 162.5 L170.0 166.3 L170.3 170.8 L170.6 173.2 L170.9 174.0 L171.2 174.1 L171.5 174.1 L171.8 174.1 L172.1 174.2 L172.4 174.5 L172.7 174.6 L173.0 174.6 L173.3 174.5 L173.6 174.4 L173.9 174.5 L174.2 174.6 L174.5 174.7 L174.8 174.5 L175.1 174.4 L175.4 174.5 L175.7 174.6 L176.0 174.7 L176.3 174.8 L176.6 175.0 L176.9 175.0 L177.2 175.0 L177.5 175.0 L177.8 175.1 L178.1 175.0 L178.4 174.8 L178.7 174.4 L179.0 174.2 L179.3 174.3 L179.6 174.5 L179.9 174.6 L180.2 174.5 L180.5 174.2 L180.8 174.2 L181.1 174.3 L181.4 174.5 L181.7 175.0 L182.0 175.5 L182.3 175.6 L182.6 175.3 L182.9 174.7 L183.2 174.1 L183.5 173.9 L183.8 174.2 L184.1 174.7 L184.4 175.1 L184.7 175.2 L185.0 175.2 L185.3 175.2 L185.6 175.3 L185.9 175.1 L186.2 174.9 L186.5 174.7 L186.8 174.9 L187.1 175.3 L187.4 175.5 L187.7 175.2 L188.0 175.0 L188.3 174.9 L188.6 175.0 L188.9 175.0 L189.2 175.1 L189.5 175.1 L189.8 175.2 L190.1 175.2 L190.4 175.2 L190.7 175.0 L191.0 174.8 L191.3 174.7 L191.6 174.5 L191.9 174.1 L192.2 173.7 L192.5 173.2 L192.8 173.0 L193.1 173.1 L193.4 173.3 L193.7 173.7 L194.0 173.9 L194.3 174.0 L194.6 174.2 L194.9 174.5 L195.2 174.7 L195.5 175.0 L195.8 175.2 L196.1 175.4 L196.4 175.4 L196.7 175.4 L197.0 175.3 L197.3 175.3 L197.6 175.4 L197.9 175.5 L198.2 175.4 L198.5 175.3 L198.8 175.2 L199.1 175.4 L199.4 175.5 L199.7 175.5 L200.0 175.6 L200.3 175.9 L200.6 176.1 L200.9 175.9 L201.2 175.7 L201.5 175.4 L201.8 175.2 L202.1 175.3 L202.4 175.6 L202.7 175.7 L203.0 175.7 L203.3 175.5 L203.6 175.5 L203.9 175.6 L204.2 175.4 L204.5 174.6 L204.8 172.2 L205.1 167.1 L205.4 161.6 L205.7 160.8 L206.0 165.6 L206.3 171.5 L206.6 175.0 L206.9 176.3 L207.2 176.5 L207.5 176.4 L207.8 176.1 L208.1 176.0 L208.4 176.0 L208.7 176.0 L209.0 175.8 L209.3 175.5 L209.6 175.2 L209.9 175.2 L210.2 175.4 L210.5 175.6 L210.8 175.7 L211.1 175.8 L211.4 176.1 L211.7 176.3 L212.0 176.5 L212.3 176.7 L212.6 176.6 L212.9 176.4 L213.2 176.3 L213.5 176.4 L213.8 176.4 L214.1 176.3 L214.4 176.0 L214.7 175.8 L215.0 175.8 L215.3 175.8 L215.6 175.8 L215.9 175.8 L216.2 175.9 L216.5 176.1 L216.8 176.2 L217.1 176.0 L217.4 175.8 L217.7 175.8 L218.0 176.0 L218.3 176.2 L218.6 176.3 L218.9 176.4 L219.2 175.9 L219.5 173.9 L219.8 168.7 L220.1 161.3 L220.4 157.6 L220.7 161.5 L221.0 168.9 L221.3 174.1 L221.6 176.1 L221.9 176.7 L222.2 176.9 L222.5 176.9 L222.8 176.9 L223.1 176.8 L223.4 176.6 L223.7 175.9 L224.0 174.5 L224.3 173.5 L224.6 173.8 L224.9 174.9 L225.2 175.8 L225.5 176.3 L225.8 176.7 L226.1 176.9 L226.4 176.8 L226.7 176.6 L227.0 176.6 L227.3 176.8 L227.6 176.8 L227.9 176.5 L228.2 176.2 L228.5 176.3 L228.8 176.4 L229.1 176.4 L229.4 176.4 L229.7 176.7 L230.0 176.9 L230.3 176.8 L230.6 176.9 L230.9 177.2 L231.2 177.4 L231.5 177.3 L231.8 177.2 L232.1 177.2 L232.4 177.1 L232.7 177.0 L233.0 176.9 L233.3 176.8 L233.6 176.8 L233.9 177.0 L234.2 177.0 L234.5 176.9 L234.8 176.7 L235.1 176.5 L235.4 176.5 L235.7 176.6 L236.0 176.9 L236.3 177.1 L236.6 177.3 L236.9 177.3 L237.2 177.2 L237.5 177.2 L237.8 177.0 L238.1 177.0 L238.4 177.2 L238.7 177.4" fill="none" stroke="#d640d6" stroke-width="1.6" stroke-linejoin="round" stroke-linecap="round" />
<path d="M45.5 197.3 L46.0 197.1 L46.5 197.0 L47.0 197.1 L47.5 197.3 L48.0 197.4 L48.5 197.5 L49.0 197.6 L49.5 197.8 L50.0 197.9 L50.5 197.9 L51.0 197.9 L51.5 197.9 L52.0 197.8 L52.5 197.8 L53.0 197.8 L53.5 197.9 L54.0 198.3 L54.5 198.6 L55.0 198.8 L55.5 198.7 L56.0 198.7 L56.5 198.7 L57.0 198.7 L57.5 198.9 L58.0 199.1 L58.5 199.1 L59.0 198.9 L59.5 198.7 L60.0 198.7 L60.5 198.6 L61.0 198.3 L61.5 198.4 L62.0 198.8 L62.5 199.2 L63.0 199.5 L63.5 199.6 L64.0 199.6 L64.5 199.4 L65.0 199.2 L65.5 199.1 L66.0 199.2 L66.5 199.3 L67.0 199.2 L67.5 199.0 L68.0 199.0 L68.5 199.0 L69.0 199.0 L69.5 199.0 L70.0 198.8 L70.5 198.6 L71.0 198.7 L71.5 198.8 L72.0 198.7 L72.5 198.5 L73.0 198.3 L73.5 197.7 L74.0 196.8 L74.5 195.8 L75.0 194.5 L75.5 192.4 L76.0 189.6 L76.5 186.3 L77.0 182.6 L77.5 178.5 L78.0 174.2 L78.5 170.7 L79.0 168.8 L79.5 169.1 L80.0 171.3 L80.5 174.8 L81.0 179.1 L81.5 183.4 L82.0 187.3 L82.5 190.6 L83.0 193.3 L83.5 195.3 L84.0 196.7 L84.5 197.7 L85.0 198.5 L85.5 199.3 L86.0 199.7 L86.5 199.8 L87.0 199.7 L87.5 199.8 L88.0 200.2 L88.5 200.7 L89.0 201.0 L89.5 200.9 L90.0 200.7 L90.5 200.6 L91.0 200.5 L91.5 200.8 L92.0 201.1 L92.5 201.3 L93.0 201.3 L93.5 201.4 L94.0 201.5 L94.5 201.4 L95.0 201.1 L95.5 200.9 L96.0 200.9 L96.5 201.3 L97.0 201.5 L97.5 201.4 L98.0 201.3 L98.5 201.2 L99.0 201.2 L99.5 201.4 L100.0 201.5 L100.5 201.5 L101.0 201.5 L101.5 201.5 L102.0 201.5 L102.5 201.3 L103.0 201.2 L103.5 201.4 L104.0 201.5 L104.5 201.4 L105.0 201.4 L105.5 201.5 L106.0 201.5 L106.5 201.3 L107.0 201.0 L107.5 200.9 L108.0 200.9 L108.5 200.9 L109.0 201.2 L109.5 201.5 L110.0 201.8 L110.5 202.1 L111.0 201.9 L111.5 201.5 L112.0 201.1 L112.5 200.8 L113.0 200.7 L113.5 200.7 L114.0 200.8 L114.5 200.8 L115.0 200.8 L115.5 200.7 L116.0 200.6 L116.5 200.8 L117.0 201.1 L117.5 201.4 L118.0 201.6 L118.5 201.6 L119.0 201.4 L119.5 201.3 L120.0 201.4 L120.5 201.7 L121.0 201.7 L121.5 201.3 L122.0 201.0 L122.5 200.9 L123.0 200.8 L123.5 200.9 L124.0 201.2 L124.5 201.3 L125.0 201.3 L125.5 201.3 L126.0 201.2 L126.5 201.1 L127.0 201.1 L127.5 201.1 L128.0 201.2 L128.5 201.3 L129.0 201.5 L129.5 201.6 L130.0 201.5 L130.5 201.3 L131.0 201.1 L131.5 200.9 L132.0 200.9 L132.5 201.1 L133.0 201.2 L133.5 201.2 L134.0 201.3 L134.5 201.3 L135.0 201.3 L135.5 201.3 L136.0 201.3 L136.5 201.3 L137.0 201.4 L137.5 201.4 L138.0 201.1 L138.5 200.7 L139.0 200.5 L139.5 200.4" fill="none" stroke="#7e7e34" stroke-width="1.7" stroke-linejoin="round" stroke-linecap="round" />
<path d="M143.0 200.5 L143.3 200.3 L143.6 200.1 L143.9 200.3 L144.2 200.5 L144.5 200.5 L144.8 200.5 L145.1 200.6 L145.4 200.6 L145.7 200.3 L146.0 200.0 L146.3 199.8 L146.6 199.8 L146.9 200.0 L147.2 200.2 L147.5 200.4 L147.8 200.5 L148.1 200.4 L148.4 200.2 L148.7 199.8 L149.0 199.6 L149.3 199.7 L149.6 199.8 L149.9 199.9 L150.2 199.9 L150.5 199.8 L150.8 199.9 L151.1 200.0 L151.4 200.2 L151.7 200.2 L152.0 200.2 L152.3 200.2 L152.6 200.2 L152.9 200.4 L153.2 200.6 L153.5 200.7 L153.8 200.8 L154.1 200.9 L154.4 200.8 L154.7 200.7 L155.0 200.7 L155.3 200.5 L155.6 200.3 L155.9 200.3 L156.2 200.3 L156.5 200.4 L156.8 200.4 L157.1 200.3 L157.4 200.2 L157.7 200.1 L158.0 200.4 L158.3 200.6 L158.6 200.5 L158.9 200.4 L159.2 200.5 L159.5 200.6 L159.8 200.5 L160.1 200.2 L160.4 200.0 L160.7 199.9 L161.0 199.8 L161.3 199.9 L161.6 200.1 L161.9 200.2 L162.2 200.2 L162.5 200.4 L162.8 200.6 L163.1 200.5 L163.4 200.3 L163.7 200.2 L164.0 200.2 L164.3 200.1 L164.6 200.2 L164.9 200.3 L165.2 200.2 L165.5 199.7 L165.8 199.3 L166.1 199.3 L166.4 199.6 L166.7 199.9 L167.0 200.1 L167.3 200.1 L167.6 200.0 L167.9 199.9 L168.2 199.8 L168.5 199.7 L168.8 198.9 L169.1 196.9 L169.4 194.1 L169.7 193.2 L170.0 195.0 L170.3 197.5 L170.6 198.9 L170.9 199.5 L171.2 199.8 L171.5 200.0 L171.8 199.9 L172.1 199.6 L172.4 199.5 L172.7 199.6 L173.0 199.8 L173.3 200.1 L173.6 200.2 L173.9 200.3 L174.2 200.3 L174.5 200.1 L174.8 199.8 L175.1 199.5 L175.4 199.7 L175.7 200.1 L176.0 200.4 L176.3 200.4 L176.6 200.2 L176.9 200.0 L177.2 199.9 L177.5 200.0 L177.8 200.1 L178.1 200.1 L178.4 200.0 L178.7 200.0 L179.0 200.1 L179.3 200.1 L179.6 200.2 L179.9 200.3 L180.2 200.3 L180.5 200.4 L180.8 200.5 L181.1 200.4 L181.4 200.2 L181.7 199.9 L182.0 199.6 L182.3 199.4 L182.6 199.4 L182.9 199.6 L183.2 199.7 L183.5 199.7 L183.8 199.6 L184.1 199.6 L184.4 199.8 L184.7 200.1 L185.0 200.4 L185.3 200.5 L185.6 200.4 L185.9 200.2 L186.2 200.1 L186.5 200.0 L186.8 200.0 L187.1 199.9 L187.4 199.8 L187.7 199.9 L188.0 200.0 L188.3 199.9 L188.6 199.8 L188.9 199.7 L189.2 199.7 L189.5 199.6 L189.8 199.6 L190.1 199.6 L190.4 199.4 L190.7 199.5 L191.0 199.7 L191.3 199.8 L191.6 199.9 L191.9 199.9 L192.2 200.2 L192.5 200.4 L192.8 200.3 L193.1 200.0 L193.4 199.9 L193.7 199.8 L194.0 199.7 L194.3 199.7 L194.6 199.7 L194.9 199.8 L195.2 199.7 L195.5 199.6 L195.8 199.6 L196.1 199.7 L196.4 199.8 L196.7 199.8 L197.0 199.5 L197.3 199.5 L197.6 199.5 L197.9 199.5 L198.2 199.5 L198.5 199.6 L198.8 199.6 L199.1 199.5 L199.4 199.5 L199.7 199.4 L200.0 199.2 L200.3 198.9 L200.6 198.6 L200.9 198.6 L201.2 198.8 L201.5 199.1 L201.8 199.2 L202.1 199.0 L202.4 198.6 L202.7 198.3 L203.0 198.2 L203.3 198.4 L203.6 198.6 L203.9 198.6 L204.2 198.4 L204.5 197.9 L204.8 196.1 L205.1 191.8 L205.4 186.9 L205.7 186.0 L206.0 190.0 L206.3 195.0 L206.6 197.8 L206.9 198.8 L207.2 199.2 L207.5 199.4 L207.8 199.5 L208.1 199.7 L208.4 200.0 L208.7 200.1 L209.0 200.0 L209.3 200.0 L209.6 200.0 L209.9 200.3 L210.2 200.6 L210.5 201.0 L210.8 201.3 L211.1 201.6 L211.4 201.7 L211.7 201.6 L212.0 201.6 L212.3 201.6 L212.6 201.7 L212.9 201.7 L213.2 201.6 L213.5 201.7 L213.8 201.9 L214.1 201.9 L214.4 201.6 L214.7 201.4 L215.0 201.5 L215.3 201.8 L215.6 201.7 L215.9 201.5 L216.2 201.4 L216.5 201.2 L216.8 200.9 L217.1 200.8 L217.4 201.1 L217.7 201.5 L218.0 201.8 L218.3 201.9 L218.6 201.9 L218.9 201.7 L219.2 201.0 L219.5 199.1 L219.8 194.3 L220.1 187.5 L220.4 184.1 L220.7 187.7 L221.0 194.5 L221.3 199.4 L221.6 201.5 L221.9 202.1 L222.2 202.0 L222.5 201.8 L222.8 202.1 L223.1 202.3 L223.4 202.3 L223.7 202.2 L224.0 202.2 L224.3 202.0 L224.6 201.9 L224.9 202.1 L225.2 202.3 L225.5 202.6 L225.8 202.7 L226.1 202.7 L226.4 202.7 L226.7 202.7 L227.0 202.5 L227.3 202.2 L227.6 202.1 L227.9 202.2 L228.2 202.3 L228.5 202.3 L228.8 202.4 L229.1 202.5 L229.4 202.6 L229.7 202.6 L230.0 202.6 L230.3 203.0 L230.6 203.3 L230.9 203.2 L231.2 203.1 L231.5 203.2 L231.8 203.2 L232.1 203.0 L232.4 202.9 L232.7 203.0 L233.0 203.1 L233.3 203.2 L233.6 203.1 L233.9 203.0 L234.2 202.9 L234.5 202.8 L234.8 202.8 L235.1 202.9 L235.4 203.0 L235.7 203.1 L236.0 203.2 L236.3 203.2 L236.6 203.1 L236.9 203.2 L237.2 203.3 L237.5 203.3 L237.8 203.4 L238.1 203.4 L238.4 203.3 L238.7 203.2" fill="none" stroke="#7e7e34" stroke-width="1.6" stroke-linejoin="round" stroke-linecap="round" />
<path d="M45.5 223.9 L46.0 223.8 L46.5 223.6 L47.0 223.6 L47.5 223.6 L48.0 223.6 L48.5 223.9 L49.0 224.3 L49.5 224.5 L50.0 224.7 L50.5 224.6 L51.0 224.5 L51.5 224.6 L52.0 224.8 L52.5 224.8 L53.0 224.8 L53.5 224.8 L54.0 224.9 L54.5 225.0 L55.0 224.9 L55.5 224.7 L56.0 224.6 L56.5 224.7 L57.0 224.7 L57.5 224.7 L58.0 224.8 L58.5 225.0 L59.0 225.3 L59.5 225.5 L60.0 225.7 L60.5 225.9 L61.0 226.1 L61.5 226.3 L62.0 226.1 L62.5 225.7 L63.0 225.2 L63.5 225.0 L64.0 225.3 L64.5 225.8 L65.0 226.0 L65.5 226.0 L66.0 226.0 L66.5 225.9 L67.0 225.7 L67.5 225.5 L68.0 225.5 L68.5 225.8 L69.0 225.9 L69.5 225.8 L70.0 225.8 L70.5 225.9 L71.0 226.1 L71.5 226.1 L72.0 225.9 L72.5 225.6 L73.0 224.9 L73.5 224.1 L74.0 223.5 L74.5 222.8 L75.0 221.4 L75.5 219.3 L76.0 216.5 L76.5 213.2 L77.0 209.4 L77.5 205.3 L78.0 201.4 L78.5 198.3 L79.0 196.3 L79.5 196.2 L80.0 198.2 L80.5 201.9 L81.0 206.3 L81.5 210.5 L82.0 214.2 L82.5 217.2 L83.0 219.7 L83.5 221.7 L84.0 223.4 L84.5 224.6 L85.0 225.3 L85.5 225.5 L86.0 225.7 L86.5 225.9 L87.0 225.8 L87.5 225.8 L88.0 225.9 L88.5 226.3 L89.0 226.5 L89.5 226.8 L90.0 227.0 L90.5 227.0 L91.0 227.0 L91.5 226.9 L92.0 226.9 L92.5 227.0 L93.0 227.1 L93.5 227.1 L94.0 226.9 L94.5 226.7 L95.0 226.6 L95.5 226.7 L96.0 227.1 L96.5 227.4 L97.0 227.5 L97.5 227.5 L98.0 227.6 L98.5 227.6 L99.0 227.4 L99.5 227.2 L100.0 227.0 L100.5 227.0 L101.0 227.0 L101.5 227.2 L102.0 227.4 L102.5 227.5 L103.0 227.5 L103.5 227.3 L104.0 227.1 L104.5 227.0 L105.0 227.1 L105.5 227.2 L106.0 227.5 L106.5 227.6 L107.0 227.6 L107.5 227.4 L108.0 227.1 L108.5 226.9 L109.0 226.9 L109.5 227.1 L110.0 227.3 L110.5 227.6 L111.0 227.7 L111.5 227.7 L112.0 227.6 L112.5 227.5 L113.0 227.5 L113.5 227.5 L114.0 227.5 L114.5 227.5 L115.0 227.6 L115.5 227.8 L116.0 227.5 L116.5 227.2 L117.0 226.9 L117.5 227.0 L118.0 227.3 L118.5 227.5 L119.0 227.7 L119.5 228.0 L120.0 227.9 L120.5 227.7 L121.0 227.6 L121.5 227.6 L122.0 227.5 L122.5 227.5 L123.0 227.6 L123.5 227.7 L124.0 227.7 L124.5 227.7 L125.0 227.7 L125.5 227.7 L126.0 227.7 L126.5 227.7 L127.0 227.7 L127.5 227.6 L128.0 227.3 L128.5 227.0 L129.0 226.9 L129.5 227.0 L130.0 227.1 L130.5 227.0 L131.0 226.9 L131.5 227.1 L132.0 227.3 L132.5 227.3 L133.0 227.3 L133.5 227.2 L134.0 227.0 L134.5 226.8 L135.0 226.9 L135.5 227.3 L136.0 227.6 L136.5 227.6 L137.0 227.3 L137.5 227.0 L138.0 226.9 L138.5 226.8 L139.0 226.7 L139.5 226.6" fill="none" stroke="#23722c" stroke-width="1.7" stroke-linejoin="round" stroke-linecap="round" />
<path d="M143.0 226.8 L143.3 226.8 L143.6 226.7 L143.9 226.5 L144.2 226.2 L144.5 226.1 L144.8 226.4 L145.1 226.8 L145.4 227.0 L145.7 226.9 L146.0 226.9 L146.3 227.0 L146.6 227.0 L146.9 226.9 L147.2 226.7 L147.5 226.5 L147.8 226.2 L148.1 226.0 L148.4 226.0 L148.7 226.3 L149.0 226.4 L149.3 226.5 L149.6 226.6 L149.9 226.7 L150.2 226.6 L150.5 226.7 L150.8 226.9 L151.1 227.0 L151.4 226.6 L151.7 226.2 L152.0 226.2 L152.3 226.5 L152.6 226.7 L152.9 226.7 L153.2 226.5 L153.5 226.5 L153.8 226.6 L154.1 226.8 L154.4 226.8 L154.7 226.6 L155.0 226.2 L155.3 225.9 L155.6 225.8 L155.9 226.0 L156.2 226.3 L156.5 226.7 L156.8 226.9 L157.1 226.6 L157.4 226.3 L157.7 226.2 L158.0 226.5 L158.3 226.7 L158.6 226.7 L158.9 226.5 L159.2 226.1 L159.5 225.7 L159.8 225.7 L160.1 226.0 L160.4 226.2 L160.7 226.3 L161.0 226.3 L161.3 226.4 L161.6 226.4 L161.9 226.2 L162.2 226.0 L162.5 226.0 L162.8 226.1 L163.1 226.3 L163.4 226.6 L163.7 226.5 L164.0 226.3 L164.3 226.2 L164.6 226.3 L164.9 226.3 L165.2 226.3 L165.5 226.4 L165.8 226.4 L166.1 226.4 L166.4 226.3 L166.7 226.3 L167.0 226.4 L167.3 226.5 L167.6 226.6 L167.9 226.5 L168.2 226.3 L168.5 225.8 L168.8 224.6 L169.1 222.5 L169.4 220.4 L169.7 220.1 L170.0 221.9 L170.3 224.2 L170.6 225.6 L170.9 226.1 L171.2 226.2 L171.5 226.4 L171.8 226.5 L172.1 226.5 L172.4 226.5 L172.7 226.5 L173.0 226.5 L173.3 226.5 L173.6 226.4 L173.9 226.3 L174.2 226.2 L174.5 226.2 L174.8 226.3 L175.1 226.6 L175.4 226.7 L175.7 226.5 L176.0 226.3 L176.3 226.3 L176.6 226.2 L176.9 226.1 L177.2 226.2 L177.5 226.4 L177.8 226.6 L178.1 226.8 L178.4 226.7 L178.7 226.5 L179.0 226.2 L179.3 226.0 L179.6 226.0 L179.9 226.1 L180.2 226.1 L180.5 226.1 L180.8 226.4 L181.1 226.8 L181.4 226.9 L181.7 226.6 L182.0 226.4 L182.3 226.4 L182.6 226.5 L182.9 226.5 L183.2 226.3 L183.5 226.1 L183.8 226.0 L184.1 226.0 L184.4 226.1 L184.7 226.1 L185.0 226.3 L185.3 226.4 L185.6 226.5 L185.9 226.4 L186.2 226.3 L186.5 226.2 L186.8 226.1 L187.1 226.2 L187.4 226.2 L187.7 226.2 L188.0 226.0 L188.3 225.8 L188.6 225.7 L188.9 225.8 L189.2 225.7 L189.5 225.5 L189.8 225.4 L190.1 225.6 L190.4 225.9 L190.7 225.9 L191.0 225.8 L191.3 225.6 L191.6 225.5 L191.9 225.8 L192.2 226.1 L192.5 226.2 L192.8 226.2 L193.1 226.1 L193.4 226.0 L193.7 226.1 L194.0 226.4 L194.3 226.6 L194.6 226.4 L194.9 226.1 L195.2 225.9 L195.5 225.9 L195.8 226.0 L196.1 225.8 L196.4 225.7 L196.7 225.8 L197.0 226.0 L197.3 226.0 L197.6 225.8 L197.9 225.8 L198.2 225.8 L198.5 225.6 L198.8 225.6 L199.1 225.8 L199.4 225.8 L199.7 225.4 L200.0 225.2 L200.3 225.5 L200.6 225.5 L200.9 225.1 L201.2 224.8 L201.5 225.0 L201.8 225.1 L202.1 225.0 L202.4 224.8 L202.7 224.6 L203.0 224.6 L203.3 225.0 L203.6 224.9 L203.9 224.6 L204.2 224.6 L204.5 224.4 L204.8 222.1 L205.1 217.2 L205.4 212.0 L205.7 211.2 L206.0 215.7 L206.3 221.2 L206.6 224.4 L206.9 225.6 L207.2 225.9 L207.5 226.0 L207.8 226.2 L208.1 226.6 L208.4 226.9 L208.7 227.0 L209.0 227.1 L209.3 227.2 L209.6 227.5 L209.9 227.7 L210.2 228.0 L210.5 228.2 L210.8 228.2 L211.1 228.0 L211.4 227.9 L211.7 228.1 L212.0 228.1 L212.3 227.8 L212.6 227.4 L212.9 227.5 L213.2 228.0 L213.5 228.3 L213.8 228.3 L214.1 228.2 L214.4 228.2 L214.7 228.3 L215.0 228.3 L215.3 228.2 L215.6 228.0 L215.9 227.7 L216.2 227.5 L216.5 227.5 L216.8 227.8 L217.1 228.2 L217.4 228.6 L217.7 228.7 L218.0 228.7 L218.3 228.5 L218.6 228.5 L218.9 228.6 L219.2 228.2 L219.5 226.2 L219.8 221.1 L220.1 214.1 L220.4 210.7 L220.7 214.5 L221.0 221.8 L221.3 226.8 L221.6 228.4 L221.9 228.3 L222.2 228.2 L222.5 228.3 L222.8 228.3 L223.1 228.4 L223.4 228.7 L223.7 228.9 L224.0 228.8 L224.3 228.7 L224.6 228.8 L224.9 228.8 L225.2 228.9 L225.5 229.2 L225.8 229.5 L226.1 229.6 L226.4 229.4 L226.7 229.1 L227.0 229.0 L227.3 229.1 L227.6 229.2 L227.9 229.3 L228.2 229.6 L228.5 229.8 L228.8 229.6 L229.1 229.1 L229.4 228.9 L229.7 229.1 L230.0 229.6 L230.3 229.8 L230.6 229.7 L230.9 229.4 L231.2 229.3 L231.5 229.4 L231.8 229.5 L232.1 229.6 L232.4 229.7 L232.7 229.8 L233.0 229.6 L233.3 229.3 L233.6 229.1 L233.9 229.4 L234.2 229.7 L234.5 229.7 L234.8 229.7 L235.1 229.8 L235.4 230.0 L235.7 230.0 L236.0 229.9 L236.3 229.8 L236.6 229.7 L236.9 229.8 L237.2 229.7 L237.5 229.7 L237.8 230.1 L238.1 230.5 L238.4 230.8 L238.7 231.0" fill="none" stroke="#23722c" stroke-width="1.6" stroke-linejoin="round" stroke-linecap="round" />
<path d="M45.5 250.1 L46.0 250.0 L46.5 250.0 L47.0 250.3 L47.5 250.7 L48.0 250.9 L48.5 251.0 L49.0 250.9 L49.5 250.8 L50.0 250.8 L50.5 250.9 L51.0 251.1 L51.5 251.2 L52.0 251.1 L52.5 251.0 L53.0 250.9 L53.5 250.8 L54.0 250.9 L54.5 251.0 L55.0 251.0 L55.5 251.3 L56.0 251.6 L56.5 251.5 L57.0 251.3 L57.5 251.5 L58.0 251.7 L58.5 251.8 L59.0 251.8 L59.5 251.9 L60.0 252.1 L60.5 252.3 L61.0 252.2 L61.5 251.9 L62.0 251.8 L62.5 252.0 L63.0 252.2 L63.5 252.2 L64.0 252.0 L64.5 251.9 L65.0 252.0 L65.5 252.0 L66.0 251.9 L66.5 251.8 L67.0 251.8 L67.5 251.9 L68.0 251.9 L68.5 252.0 L69.0 252.1 L69.5 252.1 L70.0 252.0 L70.5 252.0 L71.0 252.0 L71.5 251.9 L72.0 251.7 L72.5 251.5 L73.0 251.5 L73.5 251.6 L74.0 251.7 L74.5 251.5 L75.0 251.2 L75.5 251.0 L76.0 250.7 L76.5 249.9 L77.0 248.5 L77.5 246.4 L78.0 244.1 L78.5 241.4 L79.0 237.9 L79.5 233.7 L80.0 229.2 L80.5 225.1 L81.0 222.0 L81.5 220.5 L82.0 221.1 L82.5 223.7 L83.0 227.6 L83.5 232.0 L84.0 236.5 L84.5 240.4 L85.0 243.6 L85.5 245.9 L86.0 247.4 L86.5 248.5 L87.0 249.5 L87.5 250.3 L88.0 250.7 L88.5 250.9 L89.0 251.1 L89.5 251.4 L90.0 251.9 L90.5 252.1 L91.0 252.0 L91.5 252.0 L92.0 252.2 L92.5 252.5 L93.0 252.6 L93.5 252.5 L94.0 252.5 L94.5 252.7 L95.0 252.7 L95.5 252.7 L96.0 252.7 L96.5 252.8 L97.0 252.7 L97.5 252.5 L98.0 252.4 L98.5 252.7 L99.0 253.2 L99.5 253.5 L100.0 253.4 L100.5 253.1 L101.0 252.7 L101.5 252.5 L102.0 252.4 L102.5 252.3 L103.0 252.2 L103.5 252.2 L104.0 252.5 L104.5 253.0 L105.0 253.3 L105.5 253.2 L106.0 252.9 L106.5 252.6 L107.0 252.4 L107.5 252.3 L108.0 252.5 L108.5 252.8 L109.0 252.8 L109.5 252.7 L110.0 252.8 L110.5 253.0 L111.0 253.0 L111.5 252.8 L112.0 252.6 L112.5 252.6 L113.0 252.8 L113.5 252.8 L114.0 252.7 L114.5 252.6 L115.0 252.8 L115.5 252.9 L116.0 253.1 L116.5 253.2 L117.0 253.4 L117.5 253.5 L118.0 253.3 L118.5 253.0 L119.0 252.8 L119.5 252.8 L120.0 253.1 L120.5 253.5 L121.0 253.7 L121.5 253.7 L122.0 253.4 L122.5 253.2 L123.0 253.1 L123.5 253.0 L124.0 252.8 L124.5 252.7 L125.0 252.8 L125.5 252.7 L126.0 252.7 L126.5 252.7 L127.0 252.8 L127.5 252.8 L128.0 252.7 L128.5 252.6 L129.0 252.7 L129.5 252.8 L130.0 252.8 L130.5 252.6 L131.0 252.4 L131.5 252.4 L132.0 252.6 L132.5 252.7 L133.0 252.7 L133.5 252.7 L134.0 252.6 L134.5 252.6 L135.0 252.7 L135.5 252.9 L136.0 253.1 L136.5 253.0 L137.0 252.9 L137.5 252.8 L138.0 252.4 L138.5 252.3 L139.0 252.6 L139.5 252.7" fill="none" stroke="#f0a040" stroke-width="1.7" stroke-linejoin="round" stroke-linecap="round" />
<path d="M143.0 254.3 L143.3 254.1 L143.6 253.7 L143.9 253.2 L144.2 253.0 L144.5 253.3 L144.8 253.5 L145.1 253.7 L145.4 253.7 L145.7 253.9 L146.0 254.2 L146.3 254.3 L146.6 254.0 L146.9 253.6 L147.2 253.4 L147.5 253.3 L147.8 253.3 L148.1 253.4 L148.4 253.6 L148.7 253.8 L149.0 253.8 L149.3 253.8 L149.6 253.7 L149.9 253.4 L150.2 253.0 L150.5 253.1 L150.8 253.4 L151.1 253.6 L151.4 253.5 L151.7 253.4 L152.0 253.4 L152.3 253.4 L152.6 253.3 L152.9 253.2 L153.2 253.2 L153.5 253.3 L153.8 253.1 L154.1 253.1 L154.4 253.2 L154.7 253.3 L155.0 253.5 L155.3 253.7 L155.6 253.8 L155.9 253.7 L156.2 253.4 L156.5 253.2 L156.8 253.3 L157.1 253.6 L157.4 253.8 L157.7 253.6 L158.0 253.2 L158.3 253.1 L158.6 253.3 L158.9 253.4 L159.2 253.4 L159.5 253.4 L159.8 253.4 L160.1 253.2 L160.4 253.1 L160.7 253.1 L161.0 253.1 L161.3 253.3 L161.6 253.5 L161.9 253.4 L162.2 253.0 L162.5 252.7 L162.8 252.9 L163.1 253.0 L163.4 252.8 L163.7 252.6 L164.0 252.5 L164.3 252.6 L164.6 253.0 L164.9 253.2 L165.2 253.2 L165.5 253.1 L165.8 253.0 L166.1 253.0 L166.4 253.0 L166.7 253.2 L167.0 253.4 L167.3 253.4 L167.6 253.1 L167.9 252.8 L168.2 252.5 L168.5 252.3 L168.8 252.0 L169.1 251.2 L169.4 250.0 L169.7 249.6 L170.0 250.5 L170.3 251.7 L170.6 252.3 L170.9 252.6 L171.2 252.7 L171.5 252.7 L171.8 252.5 L172.1 252.2 L172.4 251.9 L172.7 251.8 L173.0 251.8 L173.3 252.1 L173.6 252.5 L173.9 252.8 L174.2 252.9 L174.5 253.1 L174.8 253.0 L175.1 252.9 L175.4 252.9 L175.7 252.8 L176.0 252.6 L176.3 252.4 L176.6 252.1 L176.9 252.1 L177.2 252.3 L177.5 252.5 L177.8 252.5 L178.1 252.6 L178.4 252.9 L178.7 253.0 L179.0 253.0 L179.3 252.8 L179.6 252.5 L179.9 252.3 L180.2 252.3 L180.5 252.3 L180.8 252.4 L181.1 252.5 L181.4 252.4 L181.7 252.3 L182.0 252.5 L182.3 252.8 L182.6 252.7 L182.9 252.5 L183.2 252.2 L183.5 252.0 L183.8 252.0 L184.1 252.2 L184.4 252.4 L184.7 252.4 L185.0 252.3 L185.3 252.1 L185.6 252.1 L185.9 252.3 L186.2 252.3 L186.5 252.0 L186.8 251.8 L187.1 251.9 L187.4 252.2 L187.7 252.4 L188.0 252.3 L188.3 251.9 L188.6 251.6 L188.9 251.5 L189.2 251.7 L189.5 251.9 L189.8 252.0 L190.1 251.9 L190.4 251.8 L190.7 251.8 L191.0 251.8 L191.3 251.5 L191.6 251.4 L191.9 251.4 L192.2 251.5 L192.5 251.6 L192.8 251.8 L193.1 251.8 L193.4 251.9 L193.7 252.0 L194.0 252.2 L194.3 252.2 L194.6 251.8 L194.9 251.6 L195.2 251.6 L195.5 251.7 L195.8 251.7 L196.1 251.6 L196.4 251.4 L196.7 251.2 L197.0 251.1 L197.3 251.3 L197.6 251.7 L197.9 251.8 L198.2 251.7 L198.5 251.5 L198.8 251.4 L199.1 251.3 L199.4 251.6 L199.7 251.9 L200.0 251.8 L200.3 251.6 L200.6 251.5 L200.9 251.4 L201.2 251.5 L201.5 251.6 L201.8 251.6 L202.1 251.4 L202.4 251.3 L202.7 251.4 L203.0 251.5 L203.3 251.6 L203.6 251.4 L203.9 250.9 L204.2 250.6 L204.5 250.2 L204.8 248.2 L205.1 243.6 L205.4 238.8 L205.7 238.2 L206.0 242.5 L206.3 247.7 L206.6 250.7 L206.9 252.0 L207.2 252.5 L207.5 252.6 L207.8 252.7 L208.1 253.0 L208.4 253.4 L208.7 253.5 L209.0 253.3 L209.3 253.1 L209.6 253.3 L209.9 253.7 L210.2 254.0 L210.5 254.1 L210.8 254.3 L211.1 254.3 L211.4 254.3 L211.7 254.2 L212.0 254.1 L212.3 254.3 L212.6 254.4 L212.9 254.3 L213.2 254.2 L213.5 254.3 L213.8 254.2 L214.1 254.0 L214.4 254.1 L214.7 254.5 L215.0 254.9 L215.3 255.0 L215.6 254.9 L215.9 254.7 L216.2 254.5 L216.5 254.4 L216.8 254.5 L217.1 254.7 L217.4 255.0 L217.7 255.0 L218.0 254.9 L218.3 254.8 L218.6 254.6 L218.9 254.4 L219.2 253.9 L219.5 252.0 L219.8 247.1 L220.1 240.1 L220.4 236.5 L220.7 240.2 L221.0 247.4 L221.3 252.3 L221.6 254.2 L221.9 254.7 L222.2 254.8 L222.5 254.9 L222.8 255.0 L223.1 254.9 L223.4 254.7 L223.7 254.7 L224.0 255.0 L224.3 255.5 L224.6 255.8 L224.9 256.0 L225.2 256.0 L225.5 255.8 L225.8 255.5 L226.1 255.2 L226.4 255.2 L226.7 255.4 L227.0 255.6 L227.3 255.7 L227.6 255.8 L227.9 255.8 L228.2 256.0 L228.5 256.0 L228.8 256.0 L229.1 255.9 L229.4 255.7 L229.7 255.7 L230.0 255.9 L230.3 256.1 L230.6 256.1 L230.9 256.3 L231.2 256.4 L231.5 256.3 L231.8 256.1 L232.1 256.0 L232.4 256.1 L232.7 256.4 L233.0 256.8 L233.3 256.9 L233.6 256.8 L233.9 256.7 L234.2 256.7 L234.5 256.7 L234.8 256.5 L235.1 256.5 L235.4 256.7 L235.7 256.8 L236.0 256.8 L236.3 256.6 L236.6 256.7 L236.9 257.1 L237.2 257.5 L237.5 257.4 L237.8 256.9 L238.1 256.6 L238.4 256.6 L238.7 256.5" fill="none" stroke="#f0a040" stroke-width="1.6" stroke-linejoin="round" stroke-linecap="round" />
<rect x="45.2" y="9.1" width="194.8" height="259.6" fill="none" stroke="#151515" stroke-width="1.9"/>
<rect x="137.8" y="6" width="5.6" height="7" fill="#fff"/>
<rect x="137.8" y="265" width="5.6" height="7" fill="#fff"/>
<line x1="137.50" y1="15.50" x2="140.90" y2="2.50" stroke="#111" stroke-width="1.5"/>
<line x1="140.50" y1="15.50" x2="143.90" y2="2.50" stroke="#111" stroke-width="1.5"/>
<line x1="137.50" y1="275.50" x2="140.90" y2="262.00" stroke="#111" stroke-width="1.5"/>
<line x1="140.50" y1="275.50" x2="143.90" y2="262.00" stroke="#111" stroke-width="1.5"/>
<line x1="63.80" y1="262.00" x2="63.80" y2="268.00" stroke="#111" stroke-width="1.5"/>
<line x1="120.50" y1="262.00" x2="120.50" y2="268.00" stroke="#111" stroke-width="1.5"/>
<line x1="164.80" y1="262.00" x2="164.80" y2="268.00" stroke="#111" stroke-width="1.5"/>
<line x1="192.10" y1="262.00" x2="192.10" y2="268.00" stroke="#111" stroke-width="1.5"/>
<line x1="220.40" y1="262.00" x2="220.40" y2="268.00" stroke="#111" stroke-width="1.5"/>
<text x="64.50" y="286.50" font-size="15.30" fill="#111" font-weight="bold" text-anchor="middle" textLength="23.50" lengthAdjust="spacingAndGlyphs" >540</text>
<text x="120.30" y="286.50" font-size="15.30" fill="#111" font-weight="bold" text-anchor="middle" textLength="23.50" lengthAdjust="spacingAndGlyphs" >510</text>
<text x="164.60" y="286.50" font-size="15.30" fill="#111" font-weight="bold" text-anchor="middle" textLength="23.50" lengthAdjust="spacingAndGlyphs" >300</text>
<text x="192.60" y="286.50" font-size="15.30" fill="#111" font-weight="bold" text-anchor="middle" textLength="23.50" lengthAdjust="spacingAndGlyphs" >200</text>
<text x="220.60" y="286.50" font-size="15.30" fill="#111" font-weight="bold" text-anchor="middle" textLength="23.50" lengthAdjust="spacingAndGlyphs" >100</text>
<text x="142.40" y="302.70" font-size="15.50" fill="#111" font-weight="bold" text-anchor="middle" textLength="159.50" lengthAdjust="spacingAndGlyphs" >Binding energy (eV)</text>
<text transform="translate(35.00 138.60) rotate(-90)" x="0" y="0" font-size="16.80" fill="#111" font-weight="bold" text-anchor="middle" textLength="204.50" lengthAdjust="spacingAndGlyphs">XPS intensity (arb. units)</text>
<text x="46.80" y="24.00" font-size="18.00" fill="#111" font-weight="bold" text-anchor="start" textLength="22.30" lengthAdjust="spacingAndGlyphs" >(a)</text>
<text x="65.00" y="41.60" font-size="14.00" fill="#111" font-weight="bold" text-anchor="start" textLength="31.50" lengthAdjust="spacingAndGlyphs" >O 1s</text>
<text x="153.70" y="21.40" font-size="14.00" fill="#111" font-weight="bold" text-anchor="start" textLength="30.00" lengthAdjust="spacingAndGlyphs" >C 1s</text>
<text x="172.50" y="37.00" font-size="14.00" fill="#111" font-weight="bold" text-anchor="start" textLength="34.60" lengthAdjust="spacingAndGlyphs" >Cl 2p</text>
<text x="199.30" y="52.60" font-size="14.00" fill="#111" font-weight="bold" text-anchor="start" textLength="34.60" lengthAdjust="spacingAndGlyphs" >Au 4f</text>
<line x1="81.00" y1="45.40" x2="81.00" y2="52.00" stroke="#111" stroke-width="1.5"/>
<path d="M78.80 49.00 L83.20 49.00 L82.20 55.50 L81.00 57.00 L79.80 55.50 Z" fill="#111"/>
<line x1="169.70" y1="24.00" x2="169.70" y2="69.30" stroke="#111" stroke-width="1.5"/>
<path d="M167.50 66.30 L171.90 66.30 L170.90 72.80 L169.70 74.30 L168.50 72.80 Z" fill="#111"/>
<line x1="192.90" y1="38.70" x2="192.90" y2="69.30" stroke="#111" stroke-width="1.5"/>
<path d="M190.70 66.30 L195.10 66.30 L194.10 72.80 L192.90 74.30 L191.70 72.80 Z" fill="#111"/>
<line x1="224.40" y1="55.20" x2="224.40" y2="69.30" stroke="#111" stroke-width="1.5"/>
<path d="M222.20 66.30 L226.60 66.30 L225.60 72.80 L224.40 74.30 L223.20 72.80 Z" fill="#111"/>
<text x="93.00" y="87.90" font-size="14.00" fill="#d02a38" font-weight="bold" text-anchor="start" textLength="51.50" lengthAdjust="spacingAndGlyphs" >Pristine</text>
<text x="89.20" y="106.30" font-size="14.00" fill="#3cd23c" font-weight="bold" text-anchor="start" textLength="66.50" lengthAdjust="spacingAndGlyphs" >As-doped</text>
<text x="101.50" y="128.20" font-size="14.00" fill="#2424a8" font-weight="bold" text-anchor="start" textLength="31.00" lengthAdjust="spacingAndGlyphs" >50<tspan font-size="9.0" dy="-7.0">o</tspan><tspan dy="7.0">C</tspan></text>
<text x="97.50" y="149.50" font-size="14.00" fill="#48dcdc" font-weight="bold" text-anchor="start" textLength="39.00" lengthAdjust="spacingAndGlyphs" >100<tspan font-size="9.0" dy="-7.0">o</tspan><tspan dy="7.0">C</tspan></text>
<text x="97.80" y="170.50" font-size="14.00" fill="#d640d6" font-weight="bold" text-anchor="start" textLength="38.50" lengthAdjust="spacingAndGlyphs" >150<tspan font-size="9.0" dy="-7.0">o</tspan><tspan dy="7.0">C</tspan></text>
<text x="96.80" y="197.00" font-size="14.00" fill="#7e7e34" font-weight="bold" text-anchor="start" textLength="39.00" lengthAdjust="spacingAndGlyphs" >200<tspan font-size="9.0" dy="-7.0">o</tspan><tspan dy="7.0">C</tspan></text>
<text x="95.30" y="223.40" font-size="14.00" fill="#23722c" font-weight="bold" text-anchor="start" textLength="39.00" lengthAdjust="spacingAndGlyphs" >300<tspan font-size="9.0" dy="-7.0">o</tspan><tspan dy="7.0">C</tspan></text>
<text x="95.30" y="249.80" font-size="14.00" fill="#f0a040" font-weight="bold" text-anchor="start" textLength="39.00" lengthAdjust="spacingAndGlyphs" >500<tspan font-size="9.0" dy="-7.0">o</tspan><tspan dy="7.0">C</tspan></text>
<path d="M307.5 86.8 L308.3 85.5 L309.1 84.8 L309.9 83.6 L310.7 81.9 L311.5 81.0 L312.3 79.9 L313.1 78.7 L313.9 77.9 L314.7 77.4 L315.5 76.6 L316.3 75.5 L317.1 75.2 L317.9 74.8 L318.7 73.7 L319.5 72.5 L320.3 71.3 L321.1 70.1 L321.9 69.5 L322.7 68.8 L323.5 68.3 L324.3 67.8 L325.1 66.7 L325.9 65.9 L326.7 65.3 L327.5 64.2 L328.3 63.9 L329.1 64.2 L329.9 64.7 L330.7 65.5 L331.5 66.2 L332.3 67.4 L333.1 68.3 L333.9 68.7 L334.7 69.2 L335.5 70.2 L336.3 70.9 L337.1 71.3 L337.9 72.1 L338.7 72.9 L339.5 73.3 L340.3 73.7 L341.1 73.5 L341.9 72.8 L342.7 72.4 L343.5 72.1 L344.3 71.9 L345.1 71.5 L345.9 71.3 L346.7 71.0 L347.5 70.3 L348.3 69.0 L349.1 67.6 L349.9 66.7 L350.7 65.1 L351.5 63.5 L352.3 61.7 L353.1 60.0 L353.9 58.6 L354.7 57.0 L355.5 55.5 L356.3 53.7 L357.1 52.5 L357.9 51.2 L358.7 50.0 L359.5 49.3 L360.3 49.2 L361.1 49.1 L361.9 48.6 L362.7 48.7 L363.5 49.2 L364.3 49.8 L365.1 50.0 L365.9 50.3 L366.7 50.7 L367.5 51.3 L368.3 51.8 L369.1 51.8 L369.9 52.0 L370.7 52.2 L371.5 53.1 L372.3 53.8 L373.1 54.2 L373.9 54.6 L374.7 54.5 L375.5 54.8 L376.3 55.8 L377.1 57.0 L377.9 58.2 L378.7 59.4 L379.5 60.6 L380.3 61.9 L381.1 62.7 L381.9 63.6 L382.7 65.0 L383.5 66.4 L384.3 66.8 L385.1 68.2 L385.9 69.9 L386.7 70.6 L387.5 70.9 L388.3 71.6 L389.1 72.1 L389.9 71.8 L390.7 70.7 L391.5 70.0 L392.3 69.1 L393.1 68.1 L393.9 66.7 L394.7 64.9 L395.5 63.4 L396.3 62.9 L397.1 62.2 L397.9 60.7 L398.7 59.2 L399.5 57.9 L400.3 55.9 L401.1 54.5 L401.9 53.0 L402.7 51.9 L403.5 51.3 L404.3 50.7 L405.1 49.7 L405.9 49.3 L406.7 49.7 L407.5 51.1 L408.3 52.6 L409.1 54.2 L409.9 55.9 L410.7 58.2 L411.5 60.6 L412.3 62.5 L413.1 64.5 L413.9 66.6 L414.7 68.6 L415.5 70.9 L416.3 73.9 L417.1 76.2 L417.9 77.8 L418.7 78.6 L419.5 79.7 L420.3 81.0 L421.1 82.8 L421.9 84.5 L422.7 85.3 L423.5 85.7 L424.3 86.3 L425.1 86.9 L425.9 87.3 L426.7 87.7 L427.5 87.8 L428.3 87.7 L429.1 88.5 L429.9 89.3 L430.7 89.2 L431.5 89.2 L432.3 89.4 L433.1 89.8 L433.9 90.3 L434.7 90.1 L435.5 89.6 L436.3 89.3 L437.1 89.7 L437.9 89.8 L438.7 90.2 L439.5 91.1 L440.3 91.3 L441.1 91.0 L441.9 91.5 L442.7 91.7 L443.5 91.5 L444.3 91.6 L445.1 91.2 L445.9 91.1 L446.7 91.2 L447.5 91.6 L448.3 92.0 L449.1 91.7 L449.9 91.6 L450.7 91.9 L451.5 92.3 L452.3 92.5 L453.1 92.6 L453.9 92.3 L454.7 92.1 L455.5 92.3 L456.3 92.5 L457.1 92.6 L457.9 93.1 L458.7 93.4 L459.5 93.1 L460.3 93.1 L461.1 93.4 L461.9 92.9 L462.7 92.6 L463.5 92.8 L464.3 93.2 L465.1 93.4 L465.9 93.4 L466.7 93.5 L467.5 93.9 L468.3 93.7 L469.1 93.1 L469.9 93.3 L470.7 93.6 L471.5 93.8 L472.3 93.5 L473.1 93.3 L473.9 93.2 L474.7 93.0 L475.5 93.4 L476.3 93.6 L477.1 93.7 L477.9 93.5 L478.7 93.4 L479.5 93.4 L480.3 93.5 L481.1 94.0 L481.9 94.0 L482.7 93.9 L483.5 93.7 L484.3 93.7 L485.1 93.5 L485.9 93.7 L486.7 94.0 L487.5 94.3 L488.3 94.4 L489.1 94.4 L489.9 94.6 L490.7 94.6 L491.5 94.7 L492.3 94.7 L493.1 94.4 L493.9 94.3 L494.7 94.4 L495.5 94.4 L496.3 94.7 L497.1 95.0 L497.9 94.9 L498.7 94.3 L499.5 94.1 L500.3 94.3 L501.1 94.7 L501.9 95.1" fill="none" stroke="#d42030" stroke-width="2.3" stroke-linejoin="round" stroke-linecap="round" />
<path d="M307.5 118.7 L308.3 118.0 L309.1 117.3 L309.9 116.3 L310.7 115.7 L311.5 115.5 L312.3 114.7 L313.1 113.5 L313.9 112.3 L314.7 111.2 L315.5 110.6 L316.3 109.8 L317.1 108.9 L317.9 107.9 L318.7 107.1 L319.5 106.2 L320.3 105.5 L321.1 104.6 L321.9 103.0 L322.7 101.2 L323.5 100.0 L324.3 99.1 L325.1 98.6 L325.9 98.4 L326.7 97.9 L327.5 97.3 L328.3 97.1 L329.1 96.9 L329.9 96.9 L330.7 97.4 L331.5 98.5 L332.3 99.8 L333.1 100.4 L333.9 101.8 L334.7 102.8 L335.5 103.3 L336.3 103.8 L337.1 104.5 L337.9 105.3 L338.7 106.1 L339.5 106.7 L340.3 107.5 L341.1 108.2 L341.9 108.5 L342.7 108.8 L343.5 109.1 L344.3 109.2 L345.1 109.1 L345.9 109.3 L346.7 109.3 L347.5 109.2 L348.3 109.3 L349.1 108.5 L349.9 107.9 L350.7 107.6 L351.5 106.8 L352.3 106.3 L353.1 105.9 L353.9 105.6 L354.7 105.4 L355.5 105.1 L356.3 104.3 L357.1 102.8 L357.9 100.9 L358.7 98.6 L359.5 96.3 L360.3 94.3 L361.1 92.2 L361.9 90.7 L362.7 89.9 L363.5 88.5 L364.3 86.9 L365.1 85.6 L365.9 84.1 L366.7 82.6 L367.5 81.7 L368.3 81.3 L369.1 81.5 L369.9 81.8 L370.7 82.4 L371.5 82.6 L372.3 82.5 L373.1 82.9 L373.9 83.3 L374.7 84.1 L375.5 85.0 L376.3 85.3 L377.1 85.6 L377.9 87.0 L378.7 88.7 L379.5 90.2 L380.3 91.6 L381.1 92.8 L381.9 94.4 L382.7 95.9 L383.5 97.6 L384.3 99.1 L385.1 100.3 L385.9 101.3 L386.7 102.5 L387.5 103.5 L388.3 104.9 L389.1 106.6 L389.9 107.7 L390.7 108.2 L391.5 109.1 L392.3 110.2 L393.1 110.8 L393.9 110.7 L394.7 109.9 L395.5 108.9 L396.3 108.7 L397.1 108.4 L397.9 107.9 L398.7 107.1 L399.5 106.4 L400.3 106.0 L401.1 105.2 L401.9 103.8 L402.7 102.9 L403.5 102.6 L404.3 101.5 L405.1 100.7 L405.9 99.5 L406.7 97.7 L407.5 96.5 L408.3 95.6 L409.1 95.0 L409.9 94.8 L410.7 95.1 L411.5 95.2 L412.3 95.8 L413.1 97.0 L413.9 98.2 L414.7 100.1 L415.5 102.3 L416.3 103.7 L417.1 105.4 L417.9 107.2 L418.7 108.8 L419.5 111.1 L420.3 114.1 L421.1 116.2 L421.9 117.8 L422.7 118.9 L423.5 119.8 L424.3 120.9 L425.1 122.4 L425.9 123.9 L426.7 124.4 L427.5 124.5 L428.3 124.5 L429.1 124.9 L429.9 125.3 L430.7 125.9 L431.5 126.1 L432.3 126.3 L433.1 126.4 L433.9 126.3 L434.7 126.4 L435.5 126.8 L436.3 126.7 L437.1 126.8 L437.9 127.1 L438.7 127.4 L439.5 127.9 L440.3 128.3 L441.1 128.3 L441.9 128.3 L442.7 128.4 L443.5 128.3 L444.3 128.0 L445.1 128.2 L445.9 128.1 L446.7 128.1 L447.5 128.5 L448.3 128.7 L449.1 129.1 L449.9 128.9 L450.7 128.3 L451.5 128.9 L452.3 129.7 L453.1 129.8 L453.9 129.7 L454.7 129.2 L455.5 128.6 L456.3 128.7 L457.1 129.4 L457.9 129.6 L458.7 129.2 L459.5 129.2 L460.3 129.2 L461.1 128.9 L461.9 129.4 L462.7 130.3 L463.5 130.5 L464.3 130.2 L465.1 130.1 L465.9 129.6 L466.7 129.1 L467.5 129.0 L468.3 129.7 L469.1 130.1 L469.9 130.6 L470.7 130.3 L471.5 129.8 L472.3 129.6 L473.1 130.1 L473.9 130.0 L474.7 129.6 L475.5 129.4 L476.3 130.2 L477.1 130.4 L477.9 130.1 L478.7 130.1 L479.5 130.4 L480.3 130.6 L481.1 130.6 L481.9 130.7 L482.7 130.3 L483.5 129.9 L484.3 129.6 L485.1 129.3 L485.9 129.8 L486.7 130.5 L487.5 130.4 L488.3 130.2 L489.1 130.0 L489.9 129.7 L490.7 130.1 L491.5 130.6 L492.3 130.6 L493.1 130.4 L493.9 130.9 L494.7 131.1 L495.5 130.7 L496.3 130.4 L497.1 129.8 L497.9 129.7 L498.7 130.4 L499.5 130.6 L500.3 130.5 L501.1 130.3 L501.9 130.2" fill="none" stroke="#40dc40" stroke-width="2.3" stroke-linejoin="round" stroke-linecap="round" />
<path d="M307.5 154.4 L308.3 154.4 L309.1 153.6 L309.9 153.2 L310.7 153.6 L311.5 153.5 L312.3 153.1 L313.1 152.9 L313.9 152.9 L314.7 152.1 L315.5 151.2 L316.3 150.2 L317.1 149.8 L317.9 149.5 L318.7 149.1 L319.5 148.4 L320.3 147.4 L321.1 146.4 L321.9 144.7 L322.7 143.3 L323.5 142.2 L324.3 140.9 L325.1 140.3 L325.9 139.6 L326.7 138.7 L327.5 138.0 L328.3 136.8 L329.1 135.5 L329.9 134.1 L330.7 133.0 L331.5 132.6 L332.3 132.2 L333.1 132.0 L333.9 131.6 L334.7 130.9 L335.5 131.0 L336.3 131.6 L337.1 132.7 L337.9 133.1 L338.7 133.4 L339.5 134.1 L340.3 135.1 L341.1 135.6 L341.9 135.9 L342.7 136.3 L343.5 137.6 L344.3 138.5 L345.1 139.3 L345.9 140.1 L346.7 140.4 L347.5 140.9 L348.3 141.6 L349.1 141.8 L349.9 141.7 L350.7 141.4 L351.5 141.0 L352.3 140.7 L353.1 140.0 L353.9 139.0 L354.7 137.9 L355.5 136.1 L356.3 135.1 L357.1 134.2 L357.9 132.5 L358.7 131.0 L359.5 130.5 L360.3 129.4 L361.1 127.8 L361.9 126.7 L362.7 125.0 L363.5 123.4 L364.3 122.2 L365.1 120.7 L365.9 119.1 L366.7 117.8 L367.5 116.6 L368.3 115.7 L369.1 114.9 L369.9 114.1 L370.7 113.1 L371.5 112.3 L372.3 112.2 L373.1 112.9 L373.9 113.9 L374.7 114.2 L375.5 114.4 L376.3 115.1 L377.1 115.7 L377.9 116.7 L378.7 117.6 L379.5 118.6 L380.3 119.4 L381.1 120.0 L381.9 121.0 L382.7 121.9 L383.5 123.5 L384.3 125.7 L385.1 127.7 L385.9 128.3 L386.7 128.9 L387.5 129.9 L388.3 131.3 L389.1 132.0 L389.9 133.1 L390.7 134.4 L391.5 135.6 L392.3 137.3 L393.1 138.3 L393.9 138.8 L394.7 139.3 L395.5 139.7 L396.3 140.2 L397.1 140.9 L397.9 141.0 L398.7 140.7 L399.5 140.0 L400.3 139.2 L401.1 138.5 L401.9 137.5 L402.7 137.0 L403.5 136.8 L404.3 135.8 L405.1 134.3 L405.9 133.5 L406.7 133.2 L407.5 132.3 L408.3 130.5 L409.1 129.4 L409.9 128.7 L410.7 127.6 L411.5 126.0 L412.3 124.9 L413.1 124.0 L413.9 123.4 L414.7 122.1 L415.5 120.9 L416.3 120.4 L417.1 120.5 L417.9 120.4 L418.7 120.9 L419.5 122.4 L420.3 124.1 L421.1 126.1 L421.9 127.9 L422.7 129.7 L423.5 131.9 L424.3 134.2 L425.1 136.8 L425.9 139.2 L426.7 140.9 L427.5 142.8 L428.3 144.7 L429.1 145.7 L429.9 147.0 L430.7 149.0 L431.5 150.4 L432.3 151.3 L433.1 151.8 L433.9 152.3 L434.7 153.4 L435.5 154.4 L436.3 154.9 L437.1 155.2 L437.9 155.6 L438.7 156.4 L439.5 157.4 L440.3 157.7 L441.1 157.4 L441.9 157.5 L442.7 158.1 L443.5 158.5 L444.3 158.4 L445.1 158.4 L445.9 158.2 L446.7 158.6 L447.5 159.4 L448.3 159.7 L449.1 159.3 L449.9 159.5 L450.7 160.0 L451.5 160.0 L452.3 160.1 L453.1 160.5 L453.9 160.7 L454.7 161.0 L455.5 160.8 L456.3 160.3 L457.1 160.0 L457.9 159.7 L458.7 159.2 L459.5 159.2 L460.3 159.3 L461.1 159.0 L461.9 159.3 L462.7 159.4 L463.5 159.3 L464.3 159.4 L465.1 159.6 L465.9 159.6 L466.7 159.2 L467.5 159.0 L468.3 159.3 L469.1 159.9 L469.9 159.6 L470.7 159.0 L471.5 158.8 L472.3 158.9 L473.1 159.1 L473.9 159.6 L474.7 159.7 L475.5 159.1 L476.3 159.3 L477.1 159.4 L477.9 159.0 L478.7 159.0 L479.5 159.0 L480.3 159.3 L481.1 159.3 L481.9 159.1 L482.7 159.4 L483.5 159.5 L484.3 159.8 L485.1 159.8 L485.9 159.8 L486.7 159.8 L487.5 159.7 L488.3 159.3 L489.1 159.1 L489.9 159.5 L490.7 159.9 L491.5 159.8 L492.3 159.0 L493.1 159.1 L493.9 159.4 L494.7 159.1 L495.5 159.4 L496.3 160.2 L497.1 160.0 L497.9 159.6 L498.7 159.9 L499.5 160.1 L500.3 159.9 L501.1 159.8 L501.9 159.7" fill="none" stroke="#1c1ca4" stroke-width="2.3" stroke-linejoin="round" stroke-linecap="round" />
<path d="M307.5 180.3 L308.3 180.0 L309.1 180.0 L309.9 179.7 L310.7 179.3 L311.5 178.0 L312.3 176.8 L313.1 176.7 L313.9 176.7 L314.7 176.3 L315.5 175.6 L316.3 175.0 L317.1 174.9 L317.9 174.1 L318.7 173.6 L319.5 172.7 L320.3 172.0 L321.1 171.5 L321.9 170.1 L322.7 169.6 L323.5 169.4 L324.3 168.9 L325.1 168.4 L325.9 167.7 L326.7 167.3 L327.5 167.3 L328.3 166.6 L329.1 165.9 L329.9 165.5 L330.7 165.7 L331.5 166.3 L332.3 166.6 L333.1 166.6 L333.9 166.8 L334.7 167.2 L335.5 167.2 L336.3 167.8 L337.1 168.3 L337.9 168.7 L338.7 169.2 L339.5 169.5 L340.3 170.0 L341.1 171.0 L341.9 171.5 L342.7 171.7 L343.5 171.8 L344.3 172.2 L345.1 172.7 L345.9 173.2 L346.7 173.5 L347.5 173.0 L348.3 172.7 L349.1 172.1 L349.9 171.0 L350.7 171.0 L351.5 171.4 L352.3 171.0 L353.1 170.3 L353.9 169.8 L354.7 169.0 L355.5 167.8 L356.3 167.2 L357.1 166.4 L357.9 164.8 L358.7 163.4 L359.5 162.8 L360.3 161.6 L361.1 160.3 L361.9 159.1 L362.7 157.9 L363.5 156.8 L364.3 155.5 L365.1 153.9 L365.9 152.0 L366.7 149.9 L367.5 148.6 L368.3 147.5 L369.1 146.4 L369.9 145.7 L370.7 144.2 L371.5 143.2 L372.3 143.1 L373.1 142.9 L373.9 142.7 L374.7 143.0 L375.5 143.8 L376.3 144.9 L377.1 145.7 L377.9 146.6 L378.7 148.0 L379.5 149.5 L380.3 150.3 L381.1 150.7 L381.9 152.2 L382.7 154.0 L383.5 155.6 L384.3 157.1 L385.1 158.5 L385.9 159.4 L386.7 160.4 L387.5 161.7 L388.3 163.3 L389.1 164.2 L389.9 165.6 L390.7 167.1 L391.5 167.8 L392.3 168.2 L393.1 169.5 L393.9 170.5 L394.7 171.4 L395.5 172.2 L396.3 172.4 L397.1 172.3 L397.9 172.4 L398.7 172.0 L399.5 171.4 L400.3 170.8 L401.1 170.0 L401.9 168.9 L402.7 168.0 L403.5 167.0 L404.3 165.8 L405.1 165.0 L405.9 164.7 L406.7 163.7 L407.5 162.7 L408.3 161.7 L409.1 160.7 L409.9 159.5 L410.7 158.2 L411.5 156.9 L412.3 155.9 L413.1 154.6 L413.9 153.4 L414.7 151.7 L415.5 151.0 L416.3 150.9 L417.1 150.2 L417.9 149.7 L418.7 149.7 L419.5 150.0 L420.3 150.9 L421.1 152.0 L421.9 154.1 L422.7 156.5 L423.5 159.1 L424.3 161.3 L425.1 163.1 L425.9 165.1 L426.7 166.1 L427.5 166.9 L428.3 168.8 L429.1 171.5 L429.9 173.1 L430.7 174.2 L431.5 175.4 L432.3 176.8 L433.1 178.4 L433.9 179.4 L434.7 180.4 L435.5 180.6 L436.3 180.9 L437.1 182.2 L437.9 183.1 L438.7 183.9 L439.5 185.0 L440.3 185.4 L441.1 186.0 L441.9 186.1 L442.7 186.3 L443.5 186.7 L444.3 187.0 L445.1 187.5 L445.9 187.6 L446.7 187.4 L447.5 187.5 L448.3 187.5 L449.1 187.4 L449.9 187.5 L450.7 187.5 L451.5 187.4 L452.3 187.2 L453.1 187.4 L453.9 187.5 L454.7 187.3 L455.5 187.2 L456.3 187.5 L457.1 187.7 L457.9 187.6 L458.7 188.0 L459.5 188.4 L460.3 187.9 L461.1 187.4 L461.9 187.8 L462.7 188.2 L463.5 188.2 L464.3 188.4 L465.1 188.4 L465.9 188.2 L466.7 187.9 L467.5 187.8 L468.3 187.9 L469.1 188.2 L469.9 188.4 L470.7 188.3 L471.5 188.1 L472.3 188.2 L473.1 188.1 L473.9 187.6 L474.7 187.6 L475.5 187.8 L476.3 188.0 L477.1 188.1 L477.9 188.0 L478.7 188.1 L479.5 188.4 L480.3 188.3 L481.1 187.8 L481.9 188.0 L482.7 188.2 L483.5 188.7 L484.3 188.4 L485.1 188.2 L485.9 188.4 L486.7 188.4 L487.5 188.6 L488.3 189.0 L489.1 188.9 L489.9 189.0 L490.7 188.9 L491.5 188.6 L492.3 189.1 L493.1 189.1 L493.9 188.8 L494.7 188.5 L495.5 188.7 L496.3 188.7 L497.1 188.8 L497.9 189.3 L498.7 189.0 L499.5 188.6 L500.3 188.7 L501.1 189.1 L501.9 189.3" fill="none" stroke="#4cdcd6" stroke-width="2.3" stroke-linejoin="round" stroke-linecap="round" />
<path d="M307.5 210.3 L308.3 210.4 L309.1 210.1 L309.9 209.3 L310.7 209.0 L311.5 209.1 L312.3 209.5 L313.1 209.8 L313.9 209.5 L314.7 208.8 L315.5 208.9 L316.3 209.1 L317.1 208.8 L317.9 208.7 L318.7 208.5 L319.5 208.1 L320.3 208.5 L321.1 208.7 L321.9 208.4 L322.7 207.8 L323.5 207.6 L324.3 207.7 L325.1 207.9 L325.9 207.9 L326.7 208.1 L327.5 208.4 L328.3 208.1 L329.1 207.3 L329.9 207.2 L330.7 207.6 L331.5 207.5 L332.3 207.6 L333.1 207.5 L333.9 206.8 L334.7 206.5 L335.5 206.3 L336.3 206.0 L337.1 205.8 L337.9 206.0 L338.7 206.2 L339.5 205.8 L340.3 205.6 L341.1 205.3 L341.9 205.2 L342.7 205.3 L343.5 204.6 L344.3 204.7 L345.1 204.9 L345.9 204.7 L346.7 205.0 L347.5 205.1 L348.3 204.5 L349.1 204.3 L349.9 204.1 L350.7 204.2 L351.5 204.1 L352.3 204.1 L353.1 204.2 L353.9 204.0 L354.7 203.8 L355.5 203.1 L356.3 202.4 L357.1 202.2 L357.9 201.5 L358.7 200.5 L359.5 199.8 L360.3 198.6 L361.1 196.9 L361.9 195.2 L362.7 193.9 L363.5 192.4 L364.3 190.8 L365.1 189.1 L365.9 187.3 L366.7 185.7 L367.5 183.0 L368.3 180.3 L369.1 178.3 L369.9 176.5 L370.7 175.0 L371.5 173.4 L372.3 172.4 L373.1 172.2 L373.9 173.1 L374.7 174.1 L375.5 175.4 L376.3 176.6 L377.1 178.6 L377.9 180.6 L378.7 182.9 L379.5 184.7 L380.3 185.6 L381.1 186.8 L381.9 188.2 L382.7 189.7 L383.5 191.2 L384.3 192.6 L385.1 194.0 L385.9 195.8 L386.7 197.1 L387.5 197.9 L388.3 199.1 L389.1 200.5 L389.9 201.7 L390.7 203.0 L391.5 204.6 L392.3 205.7 L393.1 206.3 L393.9 206.7 L394.7 207.2 L395.5 206.9 L396.3 206.0 L397.1 205.6 L397.9 205.3 L398.7 204.5 L399.5 204.0 L400.3 203.4 L401.1 202.5 L401.9 201.8 L402.7 201.0 L403.5 200.5 L404.3 200.3 L405.1 201.1 L405.9 201.1 L406.7 200.6 L407.5 200.2 L408.3 200.0 L409.1 199.9 L409.9 199.4 L410.7 198.3 L411.5 196.4 L412.3 194.3 L413.1 191.6 L413.9 188.5 L414.7 185.8 L415.5 183.5 L416.3 180.8 L417.1 176.9 L417.9 173.2 L418.7 169.4 L419.5 166.0 L420.3 164.8 L421.1 165.9 L421.9 167.9 L422.7 169.9 L423.5 172.4 L424.3 175.1 L425.1 177.1 L425.9 179.7 L426.7 182.1 L427.5 184.0 L428.3 186.0 L429.1 187.9 L429.9 189.7 L430.7 191.3 L431.5 192.9 L432.3 195.0 L433.1 197.5 L433.9 200.3 L434.7 202.8 L435.5 204.3 L436.3 205.3 L437.1 206.2 L437.9 207.3 L438.7 208.3 L439.5 208.7 L440.3 208.9 L441.1 209.2 L441.9 210.0 L442.7 210.2 L443.5 210.3 L444.3 210.7 L445.1 211.1 L445.9 211.0 L446.7 211.3 L447.5 211.3 L448.3 211.0 L449.1 211.0 L449.9 210.7 L450.7 210.4 L451.5 210.4 L452.3 210.5 L453.1 210.8 L453.9 210.9 L454.7 211.1 L455.5 210.7 L456.3 209.9 L457.1 210.2 L457.9 210.3 L458.7 210.5 L459.5 210.6 L460.3 211.0 L461.1 211.2 L461.9 210.7 L462.7 210.8 L463.5 210.9 L464.3 210.8 L465.1 211.5 L465.9 211.8 L466.7 211.8 L467.5 212.4 L468.3 213.3 L469.1 212.7 L469.9 212.0 L470.7 212.3 L471.5 212.6 L472.3 212.8 L473.1 212.7 L473.9 212.5 L474.7 212.5 L475.5 212.1 L476.3 211.5 L477.1 211.4 L477.9 211.6 L478.7 211.9 L479.5 211.7 L480.3 211.5 L481.1 211.5 L481.9 211.9 L482.7 212.1 L483.5 211.7 L484.3 211.7 L485.1 211.7 L485.9 211.3 L486.7 211.5 L487.5 211.5 L488.3 211.5 L489.1 211.8 L489.9 212.1 L490.7 212.0 L491.5 211.7 L492.3 211.9 L493.1 212.2 L493.9 211.6 L494.7 211.7 L495.5 211.9 L496.3 211.9 L497.1 211.9 L497.9 212.0 L498.7 212.2 L499.5 212.2 L500.3 211.9 L501.1 211.8 L501.9 211.8" fill="none" stroke="#d434d4" stroke-width="2.3" stroke-linejoin="round" stroke-linecap="round" />
<path d="M307.5 233.8 L308.3 233.9 L309.1 233.9 L309.9 234.6 L310.7 235.3 L311.5 235.4 L312.3 235.0 L313.1 234.6 L313.9 234.8 L314.7 234.6 L315.5 234.8 L316.3 235.1 L317.1 234.8 L317.9 234.9 L318.7 235.0 L319.5 234.7 L320.3 234.6 L321.1 234.8 L321.9 234.9 L322.7 235.3 L323.5 235.2 L324.3 234.6 L325.1 234.5 L325.9 234.5 L326.7 234.3 L327.5 234.4 L328.3 234.7 L329.1 234.6 L329.9 234.3 L330.7 234.5 L331.5 234.8 L332.3 234.4 L333.1 234.6 L333.9 235.3 L334.7 235.1 L335.5 234.1 L336.3 233.9 L337.1 234.2 L337.9 234.0 L338.7 234.0 L339.5 234.0 L340.3 233.7 L341.1 232.8 L341.9 232.5 L342.7 233.0 L343.5 233.5 L344.3 233.1 L345.1 232.7 L345.9 233.0 L346.7 233.0 L347.5 232.6 L348.3 232.3 L349.1 232.5 L349.9 232.5 L350.7 232.1 L351.5 231.7 L352.3 231.3 L353.1 230.8 L353.9 230.5 L354.7 230.5 L355.5 230.2 L356.3 230.0 L357.1 230.0 L357.9 229.6 L358.7 228.9 L359.5 227.9 L360.3 227.5 L361.1 226.7 L361.9 225.8 L362.7 225.4 L363.5 225.2 L364.3 224.3 L365.1 222.9 L365.9 221.6 L366.7 220.4 L367.5 218.9 L368.3 217.0 L369.1 214.1 L369.9 211.5 L370.7 209.7 L371.5 207.9 L372.3 206.0 L373.1 204.6 L373.9 203.2 L374.7 201.4 L375.5 200.2 L376.3 199.8 L377.1 200.7 L377.9 202.0 L378.7 203.4 L379.5 205.3 L380.3 207.4 L381.1 209.6 L381.9 211.4 L382.7 212.9 L383.5 214.6 L384.3 216.0 L385.1 217.3 L385.9 219.0 L386.7 220.7 L387.5 221.9 L388.3 222.4 L389.1 222.9 L389.9 223.9 L390.7 225.2 L391.5 226.1 L392.3 226.8 L393.1 227.8 L393.9 228.3 L394.7 228.6 L395.5 229.5 L396.3 230.1 L397.1 230.3 L397.9 230.8 L398.7 231.7 L399.5 232.0 L400.3 231.6 L401.1 230.6 L401.9 230.2 L402.7 230.0 L403.5 229.1 L404.3 228.3 L405.1 227.8 L405.9 227.9 L406.7 227.3 L407.5 226.1 L408.3 224.8 L409.1 223.6 L409.9 222.6 L410.7 221.8 L411.5 220.7 L412.3 219.8 L413.1 218.0 L413.9 216.0 L414.7 214.2 L415.5 211.7 L416.3 208.9 L417.1 205.8 L417.9 202.7 L418.7 200.5 L419.5 198.2 L420.3 196.3 L421.1 193.9 L421.9 192.5 L422.7 192.4 L423.5 192.5 L424.3 192.7 L425.1 193.6 L425.9 195.2 L426.7 196.7 L427.5 198.7 L428.3 201.0 L429.1 203.5 L429.9 205.9 L430.7 208.0 L431.5 210.9 L432.3 213.7 L433.1 216.1 L433.9 219.1 L434.7 222.1 L435.5 224.6 L436.3 226.3 L437.1 227.7 L437.9 229.7 L438.7 231.3 L439.5 232.0 L440.3 232.5 L441.1 233.3 L441.9 233.9 L442.7 234.5 L443.5 234.9 L444.3 235.2 L445.1 235.5 L445.9 235.7 L446.7 235.1 L447.5 235.4 L448.3 236.0 L449.1 236.0 L449.9 236.3 L450.7 236.3 L451.5 236.5 L452.3 236.5 L453.1 236.7 L453.9 237.1 L454.7 237.2 L455.5 237.5 L456.3 238.0 L457.1 237.7 L457.9 237.5 L458.7 238.0 L459.5 238.4 L460.3 238.6 L461.1 238.5 L461.9 238.1 L462.7 238.4 L463.5 238.5 L464.3 238.2 L465.1 237.6 L465.9 237.0 L466.7 237.6 L467.5 238.2 L468.3 237.6 L469.1 237.6 L469.9 238.1 L470.7 238.4 L471.5 238.4 L472.3 237.7 L473.1 237.9 L473.9 238.1 L474.7 237.7 L475.5 238.1 L476.3 238.8 L477.1 238.7 L477.9 238.0 L478.7 237.2 L479.5 237.6 L480.3 238.0 L481.1 237.9 L481.9 238.3 L482.7 238.9 L483.5 238.2 L484.3 237.7 L485.1 237.8 L485.9 237.8 L486.7 237.8 L487.5 237.9 L488.3 238.1 L489.1 237.9 L489.9 237.5 L490.7 237.7 L491.5 237.9 L492.3 237.9 L493.1 238.2 L493.9 238.0 L494.7 237.6 L495.5 238.0 L496.3 238.6 L497.1 238.5 L497.9 238.0 L498.7 237.8 L499.5 237.3 L500.3 237.1 L501.1 237.5 L501.9 237.7" fill="none" stroke="#237a23" stroke-width="2.3" stroke-linejoin="round" stroke-linecap="round" />
<path d="M307.5 259.8 L308.3 259.8 L309.1 259.9 L309.9 260.0 L310.7 260.3 L311.5 260.6 L312.3 260.5 L313.1 260.4 L313.9 259.9 L314.7 260.2 L315.5 261.1 L316.3 261.3 L317.1 260.8 L317.9 260.4 L318.7 260.2 L319.5 260.5 L320.3 260.6 L321.1 260.2 L321.9 260.5 L322.7 260.8 L323.5 260.6 L324.3 260.3 L325.1 260.3 L325.9 260.3 L326.7 260.8 L327.5 260.6 L328.3 260.3 L329.1 260.6 L329.9 260.5 L330.7 260.0 L331.5 259.9 L332.3 259.2 L333.1 259.0 L333.9 258.8 L334.7 258.1 L335.5 258.4 L336.3 258.4 L337.1 258.2 L337.9 257.9 L338.7 258.0 L339.5 257.7 L340.3 257.6 L341.1 257.6 L341.9 257.8 L342.7 258.1 L343.5 257.6 L344.3 257.5 L345.1 257.7 L345.9 257.9 L346.7 258.1 L347.5 258.0 L348.3 257.5 L349.1 257.3 L349.9 257.4 L350.7 257.5 L351.5 257.2 L352.3 256.5 L353.1 256.2 L353.9 256.9 L354.7 256.8 L355.5 256.2 L356.3 255.7 L357.1 255.1 L357.9 254.6 L358.7 254.4 L359.5 254.0 L360.3 253.2 L361.1 252.5 L361.9 252.3 L362.7 251.9 L363.5 251.0 L364.3 249.9 L365.1 248.7 L365.9 247.9 L366.7 246.7 L367.5 244.8 L368.3 243.2 L369.1 242.0 L369.9 240.5 L370.7 238.9 L371.5 236.8 L372.3 234.5 L373.1 231.9 L373.9 229.5 L374.7 228.0 L375.5 227.1 L376.3 226.9 L377.1 227.0 L377.9 227.6 L378.7 229.0 L379.5 230.5 L380.3 231.8 L381.1 233.4 L381.9 235.0 L382.7 236.8 L383.5 238.6 L384.3 240.2 L385.1 241.8 L385.9 243.6 L386.7 245.3 L387.5 246.0 L388.3 246.4 L389.1 247.2 L389.9 248.1 L390.7 248.8 L391.5 249.1 L392.3 249.7 L393.1 250.8 L393.9 251.4 L394.7 252.4 L395.5 253.3 L396.3 254.2 L397.1 254.7 L397.9 254.5 L398.7 254.1 L399.5 253.9 L400.3 254.0 L401.1 253.9 L401.9 253.3 L402.7 253.3 L403.5 253.1 L404.3 252.6 L405.1 251.8 L405.9 250.9 L406.7 249.9 L407.5 248.9 L408.3 247.9 L409.1 247.6 L409.9 247.1 L410.7 245.9 L411.5 244.7 L412.3 243.5 L413.1 242.4 L413.9 240.5 L414.7 238.6 L415.5 236.2 L416.3 233.7 L417.1 231.5 L417.9 229.1 L418.7 226.7 L419.5 224.5 L420.3 222.5 L421.1 220.8 L421.9 219.7 L422.7 218.9 L423.5 218.7 L424.3 218.8 L425.1 219.4 L425.9 220.7 L426.7 222.5 L427.5 224.6 L428.3 226.6 L429.1 228.2 L429.9 230.2 L430.7 231.9 L431.5 234.1 L432.3 236.0 L433.1 237.8 L433.9 240.2 L434.7 243.3 L435.5 245.9 L436.3 248.1 L437.1 250.2 L437.9 252.4 L438.7 253.4 L439.5 254.6 L440.3 256.4 L441.1 257.6 L441.9 258.4 L442.7 259.3 L443.5 259.7 L444.3 259.8 L445.1 259.5 L445.9 259.2 L446.7 259.3 L447.5 259.0 L448.3 258.5 L449.1 258.4 L449.9 258.7 L450.7 258.5 L451.5 258.6 L452.3 258.8 L453.1 258.7 L453.9 258.6 L454.7 259.3 L455.5 260.0 L456.3 260.4 L457.1 260.7 L457.9 260.8 L458.7 261.2 L459.5 261.5 L460.3 261.5 L461.1 262.1 L461.9 262.4 L462.7 262.3 L463.5 262.2 L464.3 261.4 L465.1 260.5 L465.9 260.2 L466.7 259.8 L467.5 259.7 L468.3 259.8 L469.1 260.1 L469.9 259.9 L470.7 259.7 L471.5 259.9 L472.3 260.0 L473.1 259.8 L473.9 259.8 L474.7 259.9 L475.5 260.0 L476.3 260.5 L477.1 261.0 L477.9 261.4 L478.7 261.3 L479.5 261.2 L480.3 261.2 L481.1 261.1 L481.9 260.7 L482.7 260.7 L483.5 260.7 L484.3 260.4 L485.1 260.3 L485.9 260.2 L486.7 260.2 L487.5 260.1 L488.3 260.5 L489.1 260.6 L489.9 260.6 L490.7 260.7 L491.5 260.7 L492.3 260.4 L493.1 260.1 L493.9 259.6 L494.7 259.3 L495.5 259.7 L496.3 260.4 L497.1 260.2 L497.9 260.6 L498.7 261.0 L499.5 260.8 L500.3 261.2 L501.1 261.5 L501.9 261.2" fill="none" stroke="#2a7c7c" stroke-width="2.3" stroke-linejoin="round" stroke-linecap="round" />
<rect x="307.7" y="8.9" width="194.9" height="257.6" fill="none" stroke="#151515" stroke-width="1.9"/>
<line x1="328.30" y1="56.00" x2="328.30" y2="185.00" stroke="#111" stroke-width="1.5"/>
<line x1="376.50" y1="32.80" x2="376.50" y2="263.70" stroke="#111" stroke-width="1.5"/>
<line x1="422.30" y1="28.60" x2="422.30" y2="258.30" stroke="#111" stroke-width="1.5"/>
<line x1="346.40" y1="261.00" x2="346.40" y2="267.00" stroke="#111" stroke-width="1.5"/>
<line x1="385.60" y1="261.00" x2="385.60" y2="267.00" stroke="#111" stroke-width="1.5"/>
<line x1="424.50" y1="261.00" x2="424.50" y2="267.00" stroke="#111" stroke-width="1.5"/>
<line x1="463.60" y1="261.00" x2="463.60" y2="267.00" stroke="#111" stroke-width="1.5"/>
<line x1="326.90" y1="263.50" x2="326.90" y2="267.00" stroke="#111" stroke-width="1.5"/>
<line x1="366.00" y1="263.50" x2="366.00" y2="267.00" stroke="#111" stroke-width="1.5"/>
<line x1="405.50" y1="263.50" x2="405.50" y2="267.00" stroke="#111" stroke-width="1.5"/>
<line x1="444.20" y1="263.50" x2="444.20" y2="267.00" stroke="#111" stroke-width="1.5"/>
<line x1="483.60" y1="263.50" x2="483.60" y2="267.00" stroke="#111" stroke-width="1.5"/>
<text x="307.80" y="285.80" font-size="15.30" fill="#111" font-weight="bold" text-anchor="middle" textLength="16.20" lengthAdjust="spacingAndGlyphs" >93</text>
<text x="347.00" y="285.80" font-size="15.30" fill="#111" font-weight="bold" text-anchor="middle" textLength="16.20" lengthAdjust="spacingAndGlyphs" >90</text>
<text x="386.00" y="285.80" font-size="15.30" fill="#111" font-weight="bold" text-anchor="middle" textLength="16.20" lengthAdjust="spacingAndGlyphs" >87</text>
<text x="424.30" y="285.80" font-size="15.30" fill="#111" font-weight="bold" text-anchor="middle" textLength="16.20" lengthAdjust="spacingAndGlyphs" >84</text>
<text x="464.00" y="285.80" font-size="15.30" fill="#111" font-weight="bold" text-anchor="middle" textLength="16.20" lengthAdjust="spacingAndGlyphs" >81</text>
<text x="502.70" y="285.80" font-size="15.30" fill="#111" font-weight="bold" text-anchor="middle" textLength="16.20" lengthAdjust="spacingAndGlyphs" >78</text>
<text x="403.80" y="300.80" font-size="15.50" fill="#111" font-weight="bold" text-anchor="middle" textLength="159.50" lengthAdjust="spacingAndGlyphs" >Binding energy (eV)</text>
<text transform="translate(297.30 136.00) rotate(-90)" x="0" y="0" font-size="16.80" fill="#111" font-weight="bold" text-anchor="middle" textLength="203.50" lengthAdjust="spacingAndGlyphs">XPS intensity (arb. units)</text>
<text x="309.50" y="22.80" font-size="13.50" fill="#111" font-weight="bold" text-anchor="start" textLength="36.00" lengthAdjust="spacingAndGlyphs" >Au 4f</text>
<line x1="309.50" y1="25.80" x2="345.50" y2="25.80" stroke="#111" stroke-width="1.6"/>
<text x="355.40" y="26.40" font-size="14.00" fill="#111" font-weight="bold" text-anchor="start" textLength="17.60" lengthAdjust="spacingAndGlyphs" >Au</text>
<text x="374.30" y="21.20" font-size="8.50" fill="#111" font-weight="bold" text-anchor="start" >0</text>
<text x="381.40" y="26.40" font-size="14.00" fill="#111" font-weight="bold" text-anchor="start" textLength="11.60" lengthAdjust="spacingAndGlyphs" >4f</text>
<text x="395.20" y="31.70" font-size="8.00" fill="#111" font-weight="bold" text-anchor="start" textLength="11.60" lengthAdjust="spacingAndGlyphs" >5/2</text>
<text x="417.30" y="26.40" font-size="14.00" fill="#111" font-weight="bold" text-anchor="start" textLength="19.00" lengthAdjust="spacingAndGlyphs" >Au</text>
<text x="437.60" y="18.20" font-size="7.00" fill="#111" font-weight="bold" text-anchor="start" >0</text>
<text x="443.00" y="26.40" font-size="14.00" fill="#111" font-weight="bold" text-anchor="start" textLength="12.80" lengthAdjust="spacingAndGlyphs" >4f</text>
<text x="457.90" y="31.70" font-size="8.00" fill="#111" font-weight="bold" text-anchor="start" textLength="10.60" lengthAdjust="spacingAndGlyphs" >7/2</text>
<text x="476.90" y="26.40" font-size="17.50" fill="#111" font-weight="bold" text-anchor="start" textLength="23.30" lengthAdjust="spacingAndGlyphs" >(b)</text>
<text x="318.00" y="49.70" font-size="14.00" fill="#111" font-weight="bold" text-anchor="start" textLength="17.00" lengthAdjust="spacingAndGlyphs" >Au</text>
<text x="336.00" y="41.50" font-size="7.50" fill="#111" font-weight="bold" text-anchor="start" textLength="9.50" lengthAdjust="spacingAndGlyphs" >3+</text>
<text x="430.70" y="88.70" font-size="14.50" fill="#d42030" font-weight="bold" text-anchor="start" textLength="66.60" lengthAdjust="spacingAndGlyphs" >As-doped</text>
<text x="452.90" y="125.70" font-size="14.50" fill="#40dc40" font-weight="bold" text-anchor="start" textLength="31.70" lengthAdjust="spacingAndGlyphs" >50<tspan font-size="9.0" dy="-9.2">o</tspan><tspan dy="9.2">C</tspan></text>
<text x="450.30" y="155.00" font-size="14.50" fill="#1c1ca4" font-weight="bold" text-anchor="start" textLength="40.70" lengthAdjust="spacingAndGlyphs" >100<tspan font-size="9.0" dy="-9.2">o</tspan><tspan dy="9.2">C</tspan></text>
<text x="451.80" y="184.30" font-size="14.50" fill="#4cdcd6" font-weight="bold" text-anchor="start" textLength="39.20" lengthAdjust="spacingAndGlyphs" >150<tspan font-size="9.0" dy="-9.2">o</tspan><tspan dy="9.2">C</tspan></text>
<text x="451.80" y="206.00" font-size="14.50" fill="#d434d4" font-weight="bold" text-anchor="start" textLength="39.20" lengthAdjust="spacingAndGlyphs" >200<tspan font-size="9.0" dy="-9.2">o</tspan><tspan dy="9.2">C</tspan></text>
<text x="450.80" y="232.10" font-size="14.50" fill="#237a23" font-weight="bold" text-anchor="start" textLength="40.20" lengthAdjust="spacingAndGlyphs" >300<tspan font-size="9.0" dy="-9.2">o</tspan><tspan dy="9.2">C</tspan></text>
<text x="451.80" y="256.20" font-size="14.50" fill="#2a7c7c" font-weight="bold" text-anchor="start" textLength="39.20" lengthAdjust="spacingAndGlyphs" >500<tspan font-size="9.0" dy="-9.2">o</tspan><tspan dy="9.2">C</tspan></text>
<defs><radialGradient id="gb" cx="0.35" cy="0.32" r="0.7"><stop offset="0" stop-color="#9aa0ff"/><stop offset="0.35" stop-color="#2a2ae6"/><stop offset="1" stop-color="#0a0aa8"/></radialGradient><radialGradient id="gr" cx="0.35" cy="0.32" r="0.7"><stop offset="0" stop-color="#ffa0a0"/><stop offset="0.35" stop-color="#ee1a1a"/><stop offset="1" stop-color="#b00808"/></radialGradient></defs>
<path d="M72.0 329.8 L73.7 331.5 L75.3 333.2 L76.9 334.9 L78.5 336.5 L80.0 338.0 L81.5 339.6 L83.0 341.1 L84.5 342.5 L85.9 344.0 L87.3 345.4 L88.6 346.7 L89.9 348.0 L91.2 349.3 L92.5 350.6 L93.8 351.8 L95.0 353.0 L96.2 354.2 L97.4 355.3 L98.5 356.4 L99.6 357.5 L100.7 358.6 L101.8 359.6 L102.9 360.6 L103.9 361.6 L104.9 362.5 L105.9 363.5 L106.9 364.4 L107.9 365.3 L108.8 366.1 L109.8 367.0 L110.7 367.8 L111.6 368.6 L112.4 369.4 L113.3 370.2 L114.1 370.9 L115.0 371.6 L115.8 372.4 L116.6 373.1 L117.4 373.8 L118.2 374.4 L118.9 375.1 L119.7 375.7 L120.5 376.4 L121.2 377.0 L121.9 377.6 L122.7 378.2 L123.4 378.8 L124.1 379.4 L124.8 380.0 L125.5 380.6 L126.2 381.2 L126.9 381.7 L127.5 382.3 L128.2 382.8 L128.9 383.4 L129.6 383.9 L130.2 384.5 L130.9 385.0 L131.5 385.5 L132.2 386.0 L132.8 386.5 L133.5 387.0 L134.1 387.5 L134.8 388.0 L135.4 388.5 L136.0 389.0 L136.6 389.4 L137.2 389.9 L137.9 390.3 L138.5 390.8 L139.1 391.2 L139.7 391.7 L140.3 392.1 L140.9 392.5 L141.5 392.9 L142.1 393.3 L142.7 393.7 L143.3 394.1 L143.9 394.5 L144.4 394.9 L145.0 395.2 L145.6 395.6 L146.2 396.0 L146.8 396.3 L147.3 396.6 L147.9 397.0 L148.5 397.3 L149.0 397.6 L149.6 397.9 L150.2 398.2 L150.7 398.5 L151.3 398.8 L151.9 399.1 L152.4 399.4 L153.0 399.6 L153.6 399.9 L154.1 400.1 L154.7 400.4 L155.2 400.6 L155.8 400.8 L156.4 401.0 L156.9 401.2 L157.5 401.4 L158.0 401.6 L158.6 401.8 L159.2 402.0 L159.7 402.2 L160.3 402.3 L160.8 402.5 L161.4 402.7 L162.0 402.8 L162.5 403.0 L163.1 403.1 L163.7 403.3 L164.2 403.4 L164.8 403.5 L165.4 403.7 L166.0 403.8 L166.5 403.9 L167.1 404.1 L167.7 404.2 L168.3 404.3 L168.9 404.5 L169.5 404.6 L170.1 404.7 L170.6 404.9 L171.2 405.0 L171.8 405.1 L172.5 405.2 L173.1 405.4 L173.7 405.5 L174.3 405.7 L174.9 405.8 L175.5 405.9 L176.1 406.1 L176.8 406.2 L177.4 406.4 L178.0 406.6 L178.7 406.7 L179.3 406.9 L180.0 407.1 L180.6 407.3 L181.3 407.5 L182.0 407.7 L182.6 407.9 L183.3 408.1 L184.0 408.3 L184.7 408.5 L185.4 408.8 L186.1 409.0 L186.8 409.3 L187.5 409.5 L188.2 409.8 L188.9 410.1 L189.7 410.4 L190.4 410.6 L191.2 410.9 L191.9 411.2 L192.7 411.6 L193.5 411.9 L194.3 412.2 L195.1 412.5 L195.9 412.8 L196.7 413.2 L197.6 413.5 L198.4 413.8 L199.3 414.2 L200.2 414.5 L201.1 414.9 L202.1 415.2 L203.0 415.6 L204.0 415.9 L204.9 416.3 L205.9 416.6 L206.9 417.0 L208.0 417.3 L209.0 417.7 L210.1 418.0 L211.2 418.4 L212.3 418.7 L213.5 419.1 L214.7 419.4 L215.8 419.8 L217.1 420.1 L218.3 420.4 L219.6 420.7 L220.9 421.1 L222.2 421.4 L223.5 421.7 L224.9 422.0 L226.3 422.3 L227.7 422.6 L229.2 422.9 L230.7 423.2 L232.2 423.5 L233.8 423.7 L235.3 424.0 L237.0 424.3 L238.6 424.5" fill="none" stroke="#2020c0" stroke-width="1.6" stroke-linejoin="round" stroke-linecap="round" />
<path d="M72.0 462.3 L73.7 463.7 L75.3 465.0 L76.9 466.3 L78.5 467.7 L80.0 469.0 L81.5 470.3 L83.0 471.6 L84.5 472.8 L85.9 474.1 L87.3 475.3 L88.6 476.5 L89.9 477.7 L91.2 478.9 L92.5 480.1 L93.8 481.3 L95.0 482.5 L96.2 483.6 L97.4 484.7 L98.5 485.8 L99.6 486.9 L100.7 488.0 L101.8 489.1 L102.9 490.2 L103.9 491.2 L104.9 492.2 L105.9 493.3 L106.9 494.3 L107.9 495.2 L108.8 496.2 L109.8 497.2 L110.7 498.1 L111.6 499.1 L112.4 500.0 L113.3 500.9 L114.1 501.8 L115.0 502.6 L115.8 503.5 L116.6 504.3 L117.4 505.2 L118.2 506.0 L118.9 506.8 L119.7 507.6 L120.5 508.3 L121.2 509.1 L121.9 509.8 L122.7 510.6 L123.4 511.3 L124.1 512.0 L124.8 512.7 L125.5 513.3 L126.2 514.0 L126.9 514.6 L127.5 515.2 L128.2 515.8 L128.9 516.4 L129.6 517.0 L130.2 517.6 L130.9 518.2 L131.5 518.7 L132.2 519.2 L132.8 519.7 L133.5 520.3 L134.1 520.8 L134.8 521.2 L135.4 521.7 L136.0 522.2 L136.6 522.6 L137.2 523.1 L137.9 523.5 L138.5 523.9 L139.1 524.3 L139.7 524.7 L140.3 525.1 L140.9 525.5 L141.5 525.9 L142.1 526.3 L142.7 526.6 L143.3 527.0 L143.9 527.3 L144.4 527.7 L145.0 528.0 L145.6 528.3 L146.2 528.6 L146.8 528.9 L147.3 529.2 L147.9 529.6 L148.5 529.8 L149.0 530.1 L149.6 530.4 L150.2 530.7 L150.7 531.0 L151.3 531.3 L151.9 531.5 L152.4 531.8 L153.0 532.1 L153.6 532.3 L154.1 532.6 L154.7 532.8 L155.2 533.1 L155.8 533.3 L156.4 533.6 L156.9 533.8 L157.5 534.1 L158.0 534.3 L158.6 534.6 L159.2 534.8 L159.7 535.1 L160.3 535.3 L160.8 535.5 L161.4 535.8 L162.0 536.0 L162.5 536.3 L163.1 536.5 L163.7 536.7 L164.2 537.0 L164.8 537.2 L165.4 537.4 L166.0 537.7 L166.5 537.9 L167.1 538.1 L167.7 538.4 L168.3 538.6 L168.9 538.8 L169.5 539.1 L170.1 539.3 L170.6 539.5 L171.2 539.8 L171.8 540.0 L172.5 540.2 L173.1 540.4 L173.7 540.7 L174.3 540.9 L174.9 541.1 L175.5 541.4 L176.1 541.6 L176.8 541.8 L177.4 542.1 L178.0 542.3 L178.7 542.6 L179.3 542.8 L180.0 543.0 L180.6 543.3 L181.3 543.5 L182.0 543.8 L182.6 544.0 L183.3 544.2 L184.0 544.5 L184.7 544.7 L185.4 545.0 L186.1 545.2 L186.8 545.5 L187.5 545.7 L188.2 546.0 L188.9 546.3 L189.7 546.5 L190.4 546.8 L191.2 547.0 L191.9 547.3 L192.7 547.5 L193.5 547.8 L194.3 548.0 L195.1 548.3 L195.9 548.6 L196.7 548.8 L197.6 549.1 L198.4 549.3 L199.3 549.6 L200.2 549.8 L201.1 550.1 L202.1 550.3 L203.0 550.6 L204.0 550.8 L204.9 551.0 L205.9 551.3 L206.9 551.5 L208.0 551.7 L209.0 552.0 L210.1 552.2 L211.2 552.4 L212.3 552.6 L213.5 552.8 L214.7 553.0 L215.8 553.2 L217.1 553.4 L218.3 553.6 L219.6 553.8 L220.9 554.0 L222.2 554.2 L223.5 554.3 L224.9 554.5 L226.3 554.7 L227.7 554.8 L229.2 555.0 L230.7 555.1 L232.2 555.2 L233.8 555.4 L235.3 555.5 L237.0 555.6 L238.6 555.7" fill="none" stroke="#cc1828" stroke-width="1.6" stroke-linejoin="round" stroke-linecap="round" />
<circle cx="72.00" cy="329.80" r="5.2" fill="url(#gb)"/>
<circle cx="100.00" cy="358.80" r="5.2" fill="url(#gb)"/>
<circle cx="127.50" cy="383.00" r="5.2" fill="url(#gb)"/>
<circle cx="155.60" cy="404.00" r="5.2" fill="url(#gb)"/>
<circle cx="183.20" cy="405.20" r="5.2" fill="url(#gb)"/>
<circle cx="211.00" cy="420.50" r="5.2" fill="url(#gb)"/>
<circle cx="238.60" cy="424.50" r="5.2" fill="url(#gb)"/>
<circle cx="72.00" cy="462.30" r="5.5" fill="url(#gr)"/>
<circle cx="100.00" cy="485.00" r="5.5" fill="url(#gr)"/>
<circle cx="127.50" cy="519.30" r="5.5" fill="url(#gr)"/>
<circle cx="155.60" cy="533.90" r="5.5" fill="url(#gr)"/>
<circle cx="183.20" cy="544.40" r="5.5" fill="url(#gr)"/>
<circle cx="211.00" cy="554.00" r="5.5" fill="url(#gr)"/>
<circle cx="238.60" cy="555.70" r="5.5" fill="url(#gr)"/>
<rect x="58.65" y="311.3" width="194.35" height="259.2" fill="none" stroke="#151515" stroke-width="1.9"/>
<rect x="55" y="438.4" width="8" height="5.1" fill="#fff"/>
<rect x="249" y="438.4" width="8" height="5.1" fill="#fff"/>
<line x1="52.50" y1="440.60" x2="64.90" y2="436.50" stroke="#111" stroke-width="1.5"/>
<line x1="246.60" y1="440.60" x2="259.90" y2="436.50" stroke="#111" stroke-width="1.5"/>
<line x1="52.50" y1="445.30" x2="64.90" y2="441.20" stroke="#111" stroke-width="1.5"/>
<line x1="246.60" y1="445.30" x2="259.90" y2="441.20" stroke="#111" stroke-width="1.5"/>
<line x1="58.65" y1="318.60" x2="65.30" y2="318.60" stroke="#111" stroke-width="1.5"/>
<line x1="58.65" y1="361.50" x2="65.30" y2="361.50" stroke="#111" stroke-width="1.5"/>
<line x1="58.65" y1="404.50" x2="65.30" y2="404.50" stroke="#111" stroke-width="1.5"/>
<line x1="58.65" y1="340.10" x2="62.30" y2="340.10" stroke="#111" stroke-width="1.5"/>
<line x1="58.65" y1="383.10" x2="62.30" y2="383.10" stroke="#111" stroke-width="1.5"/>
<line x1="58.65" y1="426.00" x2="62.30" y2="426.00" stroke="#111" stroke-width="1.5"/>
<line x1="58.65" y1="456.80" x2="65.30" y2="456.80" stroke="#111" stroke-width="1.5"/>
<line x1="58.65" y1="491.80" x2="65.30" y2="491.80" stroke="#111" stroke-width="1.5"/>
<line x1="58.65" y1="527.30" x2="65.30" y2="527.30" stroke="#111" stroke-width="1.5"/>
<line x1="58.65" y1="562.50" x2="65.30" y2="562.50" stroke="#111" stroke-width="1.5"/>
<line x1="58.65" y1="474.30" x2="62.30" y2="474.30" stroke="#111" stroke-width="1.5"/>
<line x1="58.65" y1="509.50" x2="62.30" y2="509.50" stroke="#111" stroke-width="1.5"/>
<line x1="58.65" y1="545.00" x2="62.30" y2="545.00" stroke="#111" stroke-width="1.5"/>
<line x1="72.00" y1="564.50" x2="72.00" y2="570.50" stroke="#111" stroke-width="1.5"/>
<line x1="100.00" y1="564.50" x2="100.00" y2="570.50" stroke="#111" stroke-width="1.5"/>
<line x1="127.50" y1="564.50" x2="127.50" y2="570.50" stroke="#111" stroke-width="1.5"/>
<line x1="155.60" y1="564.50" x2="155.60" y2="570.50" stroke="#111" stroke-width="1.5"/>
<line x1="183.20" y1="564.50" x2="183.20" y2="570.50" stroke="#111" stroke-width="1.5"/>
<line x1="211.00" y1="564.50" x2="211.00" y2="570.50" stroke="#111" stroke-width="1.5"/>
<line x1="238.60" y1="564.50" x2="238.60" y2="570.50" stroke="#111" stroke-width="1.5"/>
<text x="51.30" y="323.60" font-size="15.00" fill="#111" font-weight="bold" text-anchor="end" textLength="28.50" lengthAdjust="spacingAndGlyphs" >89.0</text>
<text x="51.30" y="366.70" font-size="15.00" fill="#111" font-weight="bold" text-anchor="end" textLength="28.50" lengthAdjust="spacingAndGlyphs" >88.5</text>
<text x="51.30" y="409.20" font-size="15.00" fill="#111" font-weight="bold" text-anchor="end" textLength="28.50" lengthAdjust="spacingAndGlyphs" >88.0</text>
<text x="51.30" y="461.70" font-size="15.00" fill="#111" font-weight="bold" text-anchor="end" textLength="28.50" lengthAdjust="spacingAndGlyphs" >85.5</text>
<text x="51.30" y="497.10" font-size="15.00" fill="#111" font-weight="bold" text-anchor="end" textLength="28.50" lengthAdjust="spacingAndGlyphs" >85.0</text>
<text x="51.30" y="532.50" font-size="15.00" fill="#111" font-weight="bold" text-anchor="end" textLength="28.50" lengthAdjust="spacingAndGlyphs" >84.5</text>
<text x="51.30" y="567.90" font-size="15.00" fill="#111" font-weight="bold" text-anchor="end" textLength="28.50" lengthAdjust="spacingAndGlyphs" >84.0</text>
<text x="72.00" y="588.80" font-size="15.00" fill="#111" font-weight="bold" text-anchor="middle" >D</text>
<text x="100.00" y="588.80" font-size="15.00" fill="#111" font-weight="bold" text-anchor="middle" textLength="15.60" lengthAdjust="spacingAndGlyphs" >50</text>
<text x="127.50" y="588.80" font-size="15.00" fill="#111" font-weight="bold" text-anchor="middle" textLength="23.20" lengthAdjust="spacingAndGlyphs" >100</text>
<text x="155.60" y="588.80" font-size="15.00" fill="#111" font-weight="bold" text-anchor="middle" textLength="23.20" lengthAdjust="spacingAndGlyphs" >150</text>
<text x="183.20" y="588.80" font-size="15.00" fill="#111" font-weight="bold" text-anchor="middle" textLength="23.20" lengthAdjust="spacingAndGlyphs" >200</text>
<text x="211.00" y="588.80" font-size="15.00" fill="#111" font-weight="bold" text-anchor="middle" textLength="23.20" lengthAdjust="spacingAndGlyphs" >300</text>
<text x="238.60" y="588.80" font-size="15.00" fill="#111" font-weight="bold" text-anchor="middle" textLength="23.20" lengthAdjust="spacingAndGlyphs" >500</text>
<text x="46.20" y="606.50" font-size="15.50" fill="#111" font-weight="bold" text-anchor="start" textLength="194.00" lengthAdjust="spacingAndGlyphs" >Annealing temperature (</text>
<circle cx="245.3" cy="593.9" r="2.1" fill="none" stroke="#111" stroke-width="1.3"/>
<text x="248.50" y="606.50" font-size="15.50" fill="#111" font-weight="bold" text-anchor="start" textLength="17.50" lengthAdjust="spacingAndGlyphs" >C)</text>
<text transform="translate(15.10 441.30) rotate(-90)" x="0" y="0" font-size="17.00" fill="#111" font-weight="bold" text-anchor="middle" textLength="213.00" lengthAdjust="spacingAndGlyphs">Au 4f binding energy (eV)</text>
<text x="227.50" y="332.20" font-size="17.50" fill="#111" font-weight="bold" text-anchor="start" textLength="21.40" lengthAdjust="spacingAndGlyphs" >(c)</text>
<text x="82.10" y="333.50" font-size="14.50" fill="#2020c0" font-weight="bold" text-anchor="start" textLength="18.80" lengthAdjust="spacingAndGlyphs" >Au</text>
<text x="102.50" y="326.00" font-size="7.00" fill="#2020c0" font-weight="bold" text-anchor="start" >0</text>
<text x="109.00" y="333.50" font-size="14.50" fill="#2020c0" font-weight="bold" text-anchor="start" textLength="12.60" lengthAdjust="spacingAndGlyphs" >4f</text>
<text x="121.90" y="340.80" font-size="7.50" fill="#2020c0" font-weight="bold" text-anchor="start" textLength="12.00" lengthAdjust="spacingAndGlyphs" >5/2</text>
<text x="74.00" y="454.60" font-size="14.50" fill="#cc1828" font-weight="bold" text-anchor="start" textLength="19.20" lengthAdjust="spacingAndGlyphs" >Au</text>
<text x="93.60" y="445.60" font-size="7.00" fill="#d01828" font-weight="bold" text-anchor="start" >0</text>
<text x="99.60" y="454.60" font-size="14.50" fill="#cc1828" font-weight="bold" text-anchor="start" textLength="13.60" lengthAdjust="spacingAndGlyphs" >4f</text>
<text x="113.80" y="460.80" font-size="7.50" fill="#d01828" font-weight="bold" text-anchor="start" textLength="11.60" lengthAdjust="spacingAndGlyphs" >7/2</text>
<path d="M325.0 349.6 L326.0 349.1 L327.0 348.5 L328.0 348.0 L329.0 347.4 L330.0 346.9 L331.0 346.4 L332.0 345.9 L333.0 345.4 L334.0 344.9 L335.0 344.4 L336.0 343.9 L337.0 343.5 L338.0 343.1 L339.0 342.6 L340.0 342.2 L341.0 341.9 L342.0 341.5 L343.0 341.2 L344.0 340.9 L345.0 340.6 L346.0 340.4 L347.0 340.2 L348.0 340.0 L349.0 339.8 L350.0 339.7 L351.0 339.6 L352.0 339.6 L353.0 339.6 L354.0 339.6 L355.0 339.7 L356.0 339.8 L357.0 339.9 L358.0 340.1 L359.0 340.4 L360.0 340.7 L361.0 341.1 L362.0 341.5 L363.0 341.9 L364.0 342.4 L365.0 343.0 L366.0 343.6 L367.0 344.3 L368.0 345.0 L369.0 345.8 L370.0 346.7 L371.0 347.6 L372.0 348.6 L373.0 349.7 L374.0 350.8 L375.0 352.0 L376.0 353.3 L377.0 354.6 L378.0 356.0 L379.0 357.5 L380.0 359.1 L381.0 360.7 L382.0 362.5 L383.0 364.3 L384.0 366.1 L385.0 368.1 L386.0 370.1 L387.0 372.1 L388.0 374.2 L389.0 376.4 L390.0 378.6 L391.0 380.9 L392.0 383.2 L393.0 385.5 L394.0 387.9 L395.0 390.4 L396.0 392.8 L397.0 395.3 L398.0 397.8 L399.0 400.4 L400.0 402.9 L401.0 405.5 L402.0 408.1 L403.0 410.7 L404.0 413.3 L405.0 415.9 L406.0 418.5 L407.0 421.1 L408.0 423.7 L409.0 426.3 L410.0 428.9 L411.0 431.5 L412.0 434.0 L413.0 436.6 L414.0 439.1 L415.0 441.6 L416.0 444.1 L417.0 446.6 L418.0 449.1 L419.0 451.5 L420.0 454.0 L421.0 456.4 L422.0 458.8 L423.0 461.1 L424.0 463.4 L425.0 465.8 L426.0 468.0 L427.0 470.3 L428.0 472.5 L429.0 474.7 L430.0 476.8 L431.0 479.0 L432.0 481.0 L433.0 483.1 L434.0 485.1 L435.0 487.1 L436.0 489.0 L437.0 490.9 L438.0 492.7 L439.0 494.6 L440.0 496.3 L441.0 498.1 L442.0 499.8 L443.0 501.4 L444.0 503.1 L445.0 504.7 L446.0 506.2 L447.0 507.8 L448.0 509.3 L449.0 510.7 L450.0 512.2 L451.0 513.6 L452.0 515.0 L453.0 516.4 L454.0 517.7 L455.0 519.1 L456.0 520.4 L457.0 521.7 L458.0 522.9 L459.0 524.2 L460.0 525.4 L461.0 526.6 L462.0 527.8 L463.0 529.0 L464.0 530.2 L465.0 531.3 L466.0 532.5 L467.0 533.6 L468.0 534.7 L469.0 535.8 L470.0 536.9 L471.0 538.0 L472.0 539.1 L473.0 540.2 L474.0 541.3 L475.0 542.3 L476.0 543.4 L477.0 544.4 L478.0 545.4 L479.0 546.5 L480.0 547.5 L481.0 548.5 L482.0 549.5 L483.0 550.5 L484.0 551.5 L485.0 552.5 L486.0 553.5 L487.0 554.5 L488.0 555.5 L489.0 556.5 L490.0 557.5 L491.0 558.5" fill="none" stroke="#2020c0" stroke-width="1.6" stroke-linejoin="round" stroke-linecap="round" />
<path d="M325.0 504.7 L326.0 505.1 L327.0 505.5 L328.0 505.8 L329.0 506.2 L330.0 506.6 L331.0 506.9 L332.0 507.3 L333.0 507.7 L334.0 508.0 L335.0 508.3 L336.0 508.7 L337.0 509.0 L338.0 509.3 L339.0 509.6 L340.0 509.9 L341.0 510.1 L342.0 510.4 L343.0 510.6 L344.0 510.8 L345.0 511.0 L346.0 511.2 L347.0 511.3 L348.0 511.5 L349.0 511.6 L350.0 511.7 L351.0 511.7 L352.0 511.8 L353.0 511.8 L354.0 511.8 L355.0 511.8 L356.0 511.7 L357.0 511.6 L358.0 511.5 L359.0 511.4 L360.0 511.3 L361.0 511.1 L362.0 510.9 L363.0 510.7 L364.0 510.6 L365.0 510.3 L366.0 510.1 L367.0 509.9 L368.0 509.7 L369.0 509.4 L370.0 509.2 L371.0 508.9 L372.0 508.7 L373.0 508.4 L374.0 508.2 L375.0 507.9 L376.0 507.6 L377.0 507.4 L378.0 507.2 L379.0 506.9 L380.0 506.7 L381.0 506.5 L382.0 506.3 L383.0 506.1 L384.0 505.9 L385.0 505.7 L386.0 505.5 L387.0 505.4 L388.0 505.2 L389.0 505.0 L390.0 504.9 L391.0 504.8 L392.0 504.6 L393.0 504.5 L394.0 504.4 L395.0 504.3 L396.0 504.2 L397.0 504.1 L398.0 504.0 L399.0 503.9 L400.0 503.8 L401.0 503.8 L402.0 503.7 L403.0 503.6 L404.0 503.6 L405.0 503.5 L406.0 503.5 L407.0 503.4 L408.0 503.4 L409.0 503.3 L410.0 503.3 L411.0 503.3 L412.0 503.2 L413.0 503.2 L414.0 503.2 L415.0 503.2 L416.0 503.2 L417.0 503.1 L418.0 503.1 L419.0 503.1 L420.0 503.1 L421.0 503.1 L422.0 503.1 L423.0 503.1 L424.0 503.1 L425.0 503.1 L426.0 503.0 L427.0 503.0 L428.0 503.0 L429.0 503.0 L430.0 503.0 L431.0 503.0 L432.0 503.0 L433.0 502.9 L434.0 502.9 L435.0 502.9 L436.0 502.9 L437.0 502.9 L438.0 502.8 L439.0 502.8 L440.0 502.8 L441.0 502.7 L442.0 502.7 L443.0 502.6 L444.0 502.6 L445.0 502.5 L446.0 502.5 L447.0 502.5 L448.0 502.4 L449.0 502.3 L450.0 502.3 L451.0 502.2 L452.0 502.2 L453.0 502.1 L454.0 502.0 L455.0 502.0 L456.0 501.9 L457.0 501.8 L458.0 501.8 L459.0 501.7 L460.0 501.6 L461.0 501.6 L462.0 501.5 L463.0 501.4 L464.0 501.3 L465.0 501.2 L466.0 501.2 L467.0 501.1 L468.0 501.0 L469.0 500.9 L470.0 500.8 L471.0 500.7 L472.0 500.7 L473.0 500.6 L474.0 500.5 L475.0 500.4 L476.0 500.3 L477.0 500.2 L478.0 500.1 L479.0 500.0 L480.0 499.9 L481.0 499.8 L482.0 499.8 L483.0 499.7 L484.0 499.6 L485.0 499.5 L486.0 499.4 L487.0 499.3 L488.0 499.2 L489.0 499.1 L490.0 499.0 L491.0 498.9" fill="none" stroke="#30d030" stroke-width="1.6" stroke-linejoin="round" stroke-linecap="round" />
<path d="M325.0 518.3 L326.0 517.7 L327.0 517.1 L328.0 516.4 L329.0 515.8 L330.0 515.2 L331.0 514.6 L332.0 514.1 L333.0 513.5 L334.0 512.9 L335.0 512.4 L336.0 511.9 L337.0 511.4 L338.0 510.9 L339.0 510.5 L340.0 510.1 L341.0 509.7 L342.0 509.3 L343.0 509.0 L344.0 508.7 L345.0 508.4 L346.0 508.2 L347.0 508.0 L348.0 507.9 L349.0 507.8 L350.0 507.7 L351.0 507.7 L352.0 507.8 L353.0 507.9 L354.0 508.0 L355.0 508.2 L356.0 508.4 L357.0 508.7 L358.0 509.1 L359.0 509.4 L360.0 509.8 L361.0 510.2 L362.0 510.7 L363.0 511.2 L364.0 511.7 L365.0 512.3 L366.0 512.8 L367.0 513.4 L368.0 514.0 L369.0 514.6 L370.0 515.2 L371.0 515.8 L372.0 516.4 L373.0 517.1 L374.0 517.7 L375.0 518.3 L376.0 518.9 L377.0 519.5 L378.0 520.1 L379.0 520.7 L380.0 521.3 L381.0 521.9 L382.0 522.4 L383.0 522.9 L384.0 523.4 L385.0 523.9 L386.0 524.4 L387.0 524.9 L388.0 525.3 L389.0 525.8 L390.0 526.3 L391.0 526.7 L392.0 527.2 L393.0 527.6 L394.0 528.1 L395.0 528.6 L396.0 529.0 L397.0 529.5 L398.0 530.0 L399.0 530.5 L400.0 531.0 L401.0 531.5 L402.0 532.1 L403.0 532.6 L404.0 533.2 L405.0 533.8 L406.0 534.4 L407.0 535.1 L408.0 535.7 L409.0 536.4 L410.0 537.1 L411.0 537.9 L412.0 538.6 L413.0 539.4 L414.0 540.2 L415.0 541.0 L416.0 541.8 L417.0 542.6 L418.0 543.4 L419.0 544.2 L420.0 545.0 L421.0 545.8 L422.0 546.6 L423.0 547.4 L424.0 548.2 L425.0 548.9 L426.0 549.7 L427.0 550.4 L428.0 551.1 L429.0 551.8 L430.0 552.4 L431.0 553.0 L432.0 553.6 L433.0 554.2 L434.0 554.7 L435.0 555.2 L436.0 555.6 L437.0 556.0 L438.0 556.4 L439.0 556.7 L440.0 557.0 L441.0 557.2 L442.0 557.4 L443.0 557.6 L444.0 557.8 L445.0 557.9 L446.0 558.0 L447.0 558.1 L448.0 558.2 L449.0 558.2 L450.0 558.3 L451.0 558.3 L452.0 558.3 L453.0 558.2 L454.0 558.2 L455.0 558.2 L456.0 558.1 L457.0 558.1 L458.0 558.0 L459.0 558.0 L460.0 557.9 L461.0 557.9 L462.0 557.8 L463.0 557.8 L464.0 557.8 L465.0 557.7 L466.0 557.7 L467.0 557.7 L468.0 557.7 L469.0 557.7 L470.0 557.7 L471.0 557.7 L472.0 557.7 L473.0 557.7 L474.0 557.8 L475.0 557.8 L476.0 557.8 L477.0 557.8 L478.0 557.9 L479.0 557.9 L480.0 558.0 L481.0 558.0 L482.0 558.1 L483.0 558.1 L484.0 558.2 L485.0 558.2 L486.0 558.3 L487.0 558.4 L488.0 558.4 L489.0 558.5 L490.0 558.5 L491.0 558.6" fill="none" stroke="#d81828" stroke-width="1.6" stroke-linejoin="round" stroke-linecap="round" />
<rect x="320.20" y="513.50" width="9.6" height="9.6" fill="#ee1c1c"/>
<rect x="347.70" y="503.00" width="9.6" height="9.6" fill="#ee1c1c"/>
<rect x="375.20" y="516.50" width="9.6" height="9.6" fill="#ee1c1c"/>
<rect x="402.70" y="530.60" width="9.6" height="9.6" fill="#ee1c1c"/>
<rect x="430.50" y="550.50" width="9.6" height="9.6" fill="#ee1c1c"/>
<rect x="458.20" y="553.00" width="9.6" height="9.6" fill="#ee1c1c"/>
<rect x="486.20" y="553.80" width="9.6" height="9.6" fill="#ee1c1c"/>
<circle cx="325.00" cy="504.70" r="5.5" fill="#22e022"/>
<circle cx="352.50" cy="511.80" r="5.5" fill="#22e022"/>
<circle cx="380.00" cy="506.70" r="5.5" fill="#22e022"/>
<circle cx="407.50" cy="503.40" r="5.5" fill="#22e022"/>
<circle cx="435.30" cy="502.90" r="5.5" fill="#22e022"/>
<circle cx="463.00" cy="501.40" r="5.5" fill="#22e022"/>
<circle cx="491.00" cy="498.90" r="5.5" fill="#22e022"/>
<path d="M325.00 343.50 L332.00 355.50 L318.00 355.50 Z" fill="#1a1ae0"/>
<path d="M352.50 323.50 L359.50 335.50 L345.50 335.50 Z" fill="#1a1ae0"/>
<path d="M380.00 352.50 L387.00 364.50 L373.00 364.50 Z" fill="#1a1ae0"/>
<path d="M407.50 417.50 L414.50 429.50 L400.50 429.50 Z" fill="#1a1ae0"/>
<path d="M435.30 483.50 L442.30 495.50 L428.30 495.50 Z" fill="#1a1ae0"/>
<path d="M463.00 522.50 L470.00 534.50 L456.00 534.50 Z" fill="#1a1ae0"/>
<path d="M491.00 551.50 L498.00 563.50 L484.00 563.50 Z" fill="#1a1ae0"/>
<rect x="311" y="311.3" width="193.8" height="259.5" fill="none" stroke="#151515" stroke-width="1.9"/>
<line x1="311.00" y1="318.80" x2="317.50" y2="318.80" stroke="#111" stroke-width="1.5"/>
<line x1="311.00" y1="342.85" x2="315.00" y2="342.85" stroke="#111" stroke-width="1.5"/>
<line x1="311.00" y1="366.90" x2="317.50" y2="366.90" stroke="#111" stroke-width="1.5"/>
<line x1="311.00" y1="390.95" x2="315.00" y2="390.95" stroke="#111" stroke-width="1.5"/>
<line x1="311.00" y1="415.00" x2="317.50" y2="415.00" stroke="#111" stroke-width="1.5"/>
<line x1="311.00" y1="439.05" x2="315.00" y2="439.05" stroke="#111" stroke-width="1.5"/>
<line x1="311.00" y1="463.10" x2="317.50" y2="463.10" stroke="#111" stroke-width="1.5"/>
<line x1="311.00" y1="487.15" x2="315.00" y2="487.15" stroke="#111" stroke-width="1.5"/>
<line x1="311.00" y1="511.20" x2="317.50" y2="511.20" stroke="#111" stroke-width="1.5"/>
<line x1="311.00" y1="535.25" x2="315.00" y2="535.25" stroke="#111" stroke-width="1.5"/>
<line x1="311.00" y1="559.30" x2="317.50" y2="559.30" stroke="#111" stroke-width="1.5"/>
<line x1="325.00" y1="564.50" x2="325.00" y2="570.00" stroke="#111" stroke-width="1.5"/>
<line x1="352.50" y1="564.50" x2="352.50" y2="570.00" stroke="#111" stroke-width="1.5"/>
<line x1="380.00" y1="564.50" x2="380.00" y2="570.00" stroke="#111" stroke-width="1.5"/>
<line x1="407.50" y1="564.50" x2="407.50" y2="570.00" stroke="#111" stroke-width="1.5"/>
<line x1="435.30" y1="564.50" x2="435.30" y2="570.00" stroke="#111" stroke-width="1.5"/>
<line x1="463.00" y1="564.50" x2="463.00" y2="570.00" stroke="#111" stroke-width="1.5"/>
<line x1="491.00" y1="564.50" x2="491.00" y2="570.00" stroke="#111" stroke-width="1.5"/>
<text x="303.00" y="323.30" font-size="15.00" fill="#111" font-weight="bold" text-anchor="end" textLength="19.20" lengthAdjust="spacingAndGlyphs" >1.5</text>
<text x="303.00" y="371.50" font-size="15.00" fill="#111" font-weight="bold" text-anchor="end" textLength="19.20" lengthAdjust="spacingAndGlyphs" >1.2</text>
<text x="303.00" y="419.60" font-size="15.00" fill="#111" font-weight="bold" text-anchor="end" textLength="19.20" lengthAdjust="spacingAndGlyphs" >0.9</text>
<text x="303.00" y="467.70" font-size="15.00" fill="#111" font-weight="bold" text-anchor="end" textLength="19.20" lengthAdjust="spacingAndGlyphs" >0.6</text>
<text x="303.00" y="515.80" font-size="15.00" fill="#111" font-weight="bold" text-anchor="end" textLength="19.20" lengthAdjust="spacingAndGlyphs" >0.3</text>
<text x="303.00" y="564.20" font-size="15.00" fill="#111" font-weight="bold" text-anchor="end" textLength="19.20" lengthAdjust="spacingAndGlyphs" >0.0</text>
<text x="325.00" y="588.80" font-size="15.00" fill="#111" font-weight="bold" text-anchor="middle" >D</text>
<text x="352.50" y="588.80" font-size="15.00" fill="#111" font-weight="bold" text-anchor="middle" textLength="15.60" lengthAdjust="spacingAndGlyphs" >50</text>
<text x="380.00" y="588.80" font-size="15.00" fill="#111" font-weight="bold" text-anchor="middle" textLength="23.20" lengthAdjust="spacingAndGlyphs" >100</text>
<text x="407.50" y="588.80" font-size="15.00" fill="#111" font-weight="bold" text-anchor="middle" textLength="23.20" lengthAdjust="spacingAndGlyphs" >150</text>
<text x="435.30" y="588.80" font-size="15.00" fill="#111" font-weight="bold" text-anchor="middle" textLength="23.20" lengthAdjust="spacingAndGlyphs" >200</text>
<text x="463.00" y="588.80" font-size="15.00" fill="#111" font-weight="bold" text-anchor="middle" textLength="23.20" lengthAdjust="spacingAndGlyphs" >300</text>
<text x="491.00" y="588.80" font-size="15.00" fill="#111" font-weight="bold" text-anchor="middle" textLength="23.20" lengthAdjust="spacingAndGlyphs" >500</text>
<text x="297.70" y="606.50" font-size="15.50" fill="#111" font-weight="bold" text-anchor="start" textLength="195.50" lengthAdjust="spacingAndGlyphs" >Annealing temperature (</text>
<circle cx="496.4" cy="594.9" r="2.1" fill="none" stroke="#111" stroke-width="1.3"/>
<text x="499.10" y="606.50" font-size="15.50" fill="#111" font-weight="bold" text-anchor="start" textLength="18.50" lengthAdjust="spacingAndGlyphs" >C)</text>
<text transform="translate(276.20 440.00) rotate(-90)" x="0" y="0" font-size="15.50" fill="#111" font-weight="bold" text-anchor="middle" textLength="224.00" lengthAdjust="spacingAndGlyphs">Atomic composition (at. %)</text>
<text x="319.00" y="329.40" font-size="17.50" fill="#111" font-weight="bold" text-anchor="start" textLength="22.80" lengthAdjust="spacingAndGlyphs" >(d)</text>
<line x1="423.70" y1="326.50" x2="435.00" y2="326.50" stroke="#e01c28" stroke-width="1.6"/>
<line x1="446.50" y1="326.50" x2="457.50" y2="326.50" stroke="#e01c28" stroke-width="1.6"/>
<rect x="437.2" y="323.40" width="6.6" height="6.2" fill="#e01c28"/>
<line x1="423.70" y1="348.50" x2="435.00" y2="348.50" stroke="#30d830" stroke-width="1.6"/>
<line x1="446.50" y1="348.50" x2="457.50" y2="348.50" stroke="#30d830" stroke-width="1.6"/>
<circle cx="441" cy="348.50" r="3.8" fill="#30d830"/>
<line x1="423.70" y1="367.30" x2="435.00" y2="367.30" stroke="#1a1ab8" stroke-width="1.6"/>
<line x1="446.50" y1="367.30" x2="457.50" y2="367.30" stroke="#1a1ab8" stroke-width="1.6"/>
<path d="M440.8 363.10 L444.8 370.60 L436.8 370.60 Z" fill="#1a1ab8"/>
<text x="462.50" y="331.20" font-size="14.00" fill="#e01c28" font-weight="bold" text-anchor="start" textLength="18.50" lengthAdjust="spacingAndGlyphs" >Au</text>
<text x="481.50" y="324.30" font-size="7.50" fill="#e01c28" font-weight="bold" text-anchor="start" textLength="9.50" lengthAdjust="spacingAndGlyphs" >3+</text>
<text x="462.50" y="353.00" font-size="14.00" fill="#30d830" font-weight="bold" text-anchor="start" textLength="18.50" lengthAdjust="spacingAndGlyphs" >Au</text>
<text x="481.50" y="345.80" font-size="7.50" fill="#30d830" font-weight="bold" text-anchor="start" textLength="9.50" lengthAdjust="spacingAndGlyphs" >0+</text>
<text x="466.00" y="372.30" font-size="14.00" fill="#1a1ab8" font-weight="bold" text-anchor="start" textLength="14.00" lengthAdjust="spacingAndGlyphs" >Cl</text>
</svg></body></html>
